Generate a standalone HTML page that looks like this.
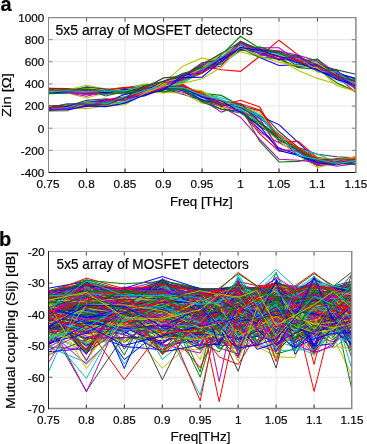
<!DOCTYPE html><html><head><meta charset="utf-8"><style>html,body{margin:0;padding:0;background:#fff;width:367px;height:444px;overflow:hidden}svg{display:block}</style></head><body><svg width="367" height="444" viewBox="0 0 367 444">
<rect width="367" height="444" fill="#fff"/>
<defs><clipPath id="ca"><rect x="48.1" y="17.5" width="307.9" height="155.0"/></clipPath><clipPath id="cb"><rect x="48.4" y="251.8" width="303.6" height="156.8"/></clipPath></defs>
<path d="M86.59 17.50V172.50M125.07 17.50V172.50M163.56 17.50V172.50M202.05 17.50V172.50M240.54 17.50V172.50M279.03 17.50V172.50M317.51 17.50V172.50" stroke="#e8e8e8" stroke-width="1.1" fill="none"/>
<path d="M48.10 39.64H356.00M48.10 61.79H356.00M48.10 83.93H356.00M48.10 106.07H356.00M48.10 128.21H356.00M48.10 150.36H356.00" stroke="#e8e8e8" stroke-width="1.1" fill="none"/>
<g clip-path="url(#ca)">
<polyline points="48.1,92.1 67.3,92.7 86.6,93.7 105.8,92.2 125.1,94.1 144.3,90.2 163.6,88.6 182.8,94.3 202.0,100.3 221.3,109.3 240.5,111.5 259.8,129.6 279.0,148.1 298.3,154.7 317.5,165.7 336.8,163.3 356.0,164.8" stroke="#0000ff" stroke-width="1.1" fill="none" stroke-linejoin="miter"/>
<polyline points="48.1,92.7 67.3,91.5 86.6,93.4 105.8,90.4 125.1,88.6 144.3,85.3 163.6,89.6 182.8,88.7 202.0,93.2 221.3,95.4 240.5,105.8 259.8,121.7 279.0,137.1 298.3,149.0 317.5,159.3 336.8,162.2 356.0,159.8" stroke="#008000" stroke-width="1.1" fill="none" stroke-linejoin="miter"/>
<polyline points="48.1,92.8 67.3,91.7 86.6,94.4 105.8,92.8 125.1,92.0 144.3,89.6 163.6,85.8 182.8,89.5 202.0,95.9 221.3,106.8 240.5,110.1 259.8,133.9 279.0,151.1 298.3,149.9 317.5,162.9 336.8,161.6 356.0,161.7" stroke="#ff0000" stroke-width="1.1" fill="none" stroke-linejoin="miter"/>
<polyline points="48.1,91.2 67.3,91.5 86.6,86.6 105.8,89.0 125.1,87.7 144.3,84.5 163.6,86.8 182.8,86.2 202.0,92.7 221.3,97.7 240.5,103.9 259.8,115.0 279.0,135.7 298.3,153.0 317.5,158.2 336.8,161.3 356.0,159.5" stroke="#00bfbf" stroke-width="1.1" fill="none" stroke-linejoin="miter"/>
<polyline points="48.1,93.0 67.3,92.4 86.6,94.4 105.8,94.3 125.1,92.9 144.3,88.4 163.6,88.6 182.8,92.2 202.0,99.6 221.3,112.1 240.5,105.7 259.8,132.2 279.0,142.8 298.3,151.8 317.5,165.7 336.8,162.8 356.0,161.3" stroke="#bf00bf" stroke-width="1.1" fill="none" stroke-linejoin="miter"/>
<polyline points="48.1,92.7 67.3,92.9 86.6,98.0 105.8,92.8 125.1,93.3 144.3,91.7 163.6,92.1 182.8,93.2 202.0,103.2 221.3,103.9 240.5,106.9 259.8,125.7 279.0,140.7 298.3,155.6 317.5,167.4 336.8,163.5 356.0,162.9" stroke="#bfbf00" stroke-width="1.1" fill="none" stroke-linejoin="miter"/>
<polyline points="48.1,89.4 67.3,90.8 86.6,93.2 105.8,90.8 125.1,89.6 144.3,88.7 163.6,88.3 182.8,85.9 202.0,101.3 221.3,101.7 240.5,109.7 259.8,127.0 279.0,135.5 298.3,149.9 317.5,163.2 336.8,160.6 356.0,162.8" stroke="#404040" stroke-width="1.1" fill="none" stroke-linejoin="miter"/>
<polyline points="48.1,90.7 67.3,91.9 86.6,90.8 105.8,92.0 125.1,90.2 144.3,90.9 163.6,83.5 182.8,88.9 202.0,100.9 221.3,102.7 240.5,106.7 259.8,116.0 279.0,124.6 298.3,142.6 317.5,160.3 336.8,163.6 356.0,160.3" stroke="#0000ff" stroke-width="1.1" fill="none" stroke-linejoin="miter"/>
<polyline points="48.1,91.4 67.3,88.7 86.6,89.9 105.8,96.0 125.1,91.3 144.3,90.7 163.6,86.0 182.8,89.2 202.0,91.5 221.3,100.4 240.5,106.6 259.8,141.5 279.0,162.0 298.3,161.4 317.5,157.3 336.8,160.9 356.0,162.8" stroke="#008000" stroke-width="1.1" fill="none" stroke-linejoin="miter"/>
<polyline points="48.1,88.3 67.3,88.6 86.6,92.1 105.8,93.2 125.1,89.0 144.3,87.5 163.6,82.7 182.8,86.9 202.0,93.0 221.3,104.8 240.5,103.7 259.8,117.4 279.0,134.1 298.3,149.0 317.5,164.8 336.8,158.8 356.0,159.5" stroke="#ff0000" stroke-width="1.1" fill="none" stroke-linejoin="miter"/>
<polyline points="48.1,93.4 67.3,90.4 86.6,91.8 105.8,90.0 125.1,90.8 144.3,87.7 163.6,82.5 182.8,86.8 202.0,93.8 221.3,99.6 240.5,109.9 259.8,114.9 279.0,139.2 298.3,151.6 317.5,158.7 336.8,160.9 356.0,158.9" stroke="#00bfbf" stroke-width="1.1" fill="none" stroke-linejoin="miter"/>
<polyline points="48.1,92.1 67.3,92.7 86.6,96.2 105.8,91.4 125.1,89.2 144.3,92.3 163.6,84.6 182.8,91.1 202.0,100.7 221.3,106.4 240.5,117.2 259.8,139.3 279.0,159.2 298.3,160.3 317.5,162.4 336.8,166.2 356.0,163.8" stroke="#bf00bf" stroke-width="1.1" fill="none" stroke-linejoin="miter"/>
<polyline points="48.1,92.0 67.3,93.6 86.6,88.3 105.8,91.1 125.1,91.3 144.3,90.0 163.6,93.1 182.8,88.1 202.0,93.3 221.3,107.6 240.5,108.4 259.8,119.1 279.0,151.0 298.3,149.0 317.5,157.8 336.8,162.1 356.0,162.7" stroke="#bfbf00" stroke-width="1.1" fill="none" stroke-linejoin="miter"/>
<polyline points="48.1,88.4 67.3,89.4 86.6,89.6 105.8,91.0 125.1,87.7 144.3,85.6 163.6,84.2 182.8,85.2 202.0,95.2 221.3,100.9 240.5,106.3 259.8,110.6 279.0,131.5 298.3,147.5 317.5,154.2 336.8,156.7 356.0,157.9" stroke="#404040" stroke-width="1.1" fill="none" stroke-linejoin="miter"/>
<polyline points="48.1,91.9 67.3,92.8 86.6,89.8 105.8,91.2 125.1,90.9 144.3,88.3 163.6,88.8 182.8,90.2 202.0,99.7 221.3,101.2 240.5,107.8 259.8,117.4 279.0,135.5 298.3,155.7 317.5,161.3 336.8,161.3 356.0,164.4" stroke="#0000ff" stroke-width="1.1" fill="none" stroke-linejoin="miter"/>
<polyline points="48.1,93.6 67.3,93.2 86.6,92.2 105.8,93.4 125.1,92.9 144.3,91.4 163.6,89.6 182.8,89.5 202.0,101.4 221.3,103.6 240.5,104.3 259.8,123.0 279.0,136.5 298.3,151.0 317.5,163.7 336.8,162.9 356.0,164.4" stroke="#008000" stroke-width="1.1" fill="none" stroke-linejoin="miter"/>
<polyline points="48.1,91.3 67.3,89.7 86.6,90.3 105.8,90.8 125.1,89.3 144.3,85.5 163.6,87.9 182.8,86.1 202.0,93.5 221.3,105.6 240.5,100.3 259.8,106.9 279.0,141.9 298.3,141.4 317.5,158.0 336.8,160.4 356.0,156.9" stroke="#ff0000" stroke-width="1.1" fill="none" stroke-linejoin="miter"/>
<polyline points="48.1,90.0 67.3,93.3 86.6,91.7 105.8,91.7 125.1,90.2 144.3,88.2 163.6,87.7 182.8,87.9 202.0,97.8 221.3,101.0 240.5,109.2 259.8,123.2 279.0,140.6 298.3,149.0 317.5,154.1 336.8,162.4 356.0,160.8" stroke="#00bfbf" stroke-width="1.1" fill="none" stroke-linejoin="miter"/>
<polyline points="48.1,89.7 67.3,92.4 86.6,93.6 105.8,90.0 125.1,92.0 144.3,87.5 163.6,89.0 182.8,86.7 202.0,96.1 221.3,104.1 240.5,111.9 259.8,118.4 279.0,149.6 298.3,151.1 317.5,160.6 336.8,159.9 356.0,163.9" stroke="#bf00bf" stroke-width="1.1" fill="none" stroke-linejoin="miter"/>
<polyline points="48.1,90.5 67.3,90.0 86.6,85.2 105.8,89.0 125.1,89.7 144.3,84.1 163.6,84.3 182.8,88.3 202.0,90.9 221.3,101.9 240.5,106.4 259.8,112.6 279.0,135.5 298.3,148.9 317.5,158.3 336.8,160.3 356.0,156.6" stroke="#bfbf00" stroke-width="1.1" fill="none" stroke-linejoin="miter"/>
<polyline points="48.1,91.3 67.3,91.3 86.6,87.2 105.8,89.0 125.1,92.2 144.3,87.9 163.6,85.8 182.8,87.6 202.0,96.5 221.3,106.1 240.5,103.5 259.8,121.8 279.0,139.5 298.3,150.5 317.5,160.2 336.8,158.7 356.0,159.5" stroke="#404040" stroke-width="1.1" fill="none" stroke-linejoin="miter"/>
<polyline points="48.1,93.2 67.3,91.5 86.6,89.8 105.8,92.9 125.1,89.4 144.3,90.8 163.6,88.5 182.8,87.7 202.0,97.1 221.3,100.7 240.5,112.2 259.8,125.8 279.0,150.5 298.3,155.4 317.5,162.8 336.8,164.7 356.0,161.1" stroke="#0000ff" stroke-width="1.1" fill="none" stroke-linejoin="miter"/>
<polyline points="48.1,93.3 67.3,89.3 86.6,89.1 105.8,90.5 125.1,91.4 144.3,88.5 163.6,91.9 182.8,88.6 202.0,102.1 221.3,109.1 240.5,112.9 259.8,123.6 279.0,139.6 298.3,149.2 317.5,160.1 336.8,164.2 356.0,160.8" stroke="#008000" stroke-width="1.1" fill="none" stroke-linejoin="miter"/>
<polyline points="48.1,90.0 67.3,90.4 86.6,90.2 105.8,90.1 125.1,87.4 144.3,88.1 163.6,83.9 182.8,84.2 202.0,95.5 221.3,100.6 240.5,103.8 259.8,110.0 279.0,137.4 298.3,147.9 317.5,158.8 336.8,163.3 356.0,158.5" stroke="#ff0000" stroke-width="1.1" fill="none" stroke-linejoin="miter"/>
<polyline points="48.1,91.9 67.3,90.7 86.6,91.6 105.8,90.8 125.1,90.9 144.3,85.5 163.6,87.7 182.8,87.6 202.0,95.3 221.3,99.9 240.5,106.6 259.8,117.0 279.0,134.8 298.3,155.4 317.5,159.3 336.8,163.7 356.0,160.6" stroke="#00bfbf" stroke-width="1.1" fill="none" stroke-linejoin="miter"/>
<polyline points="48.1,107.6 67.3,106.7 86.6,103.3 105.8,100.1 125.1,99.2 144.3,94.3 163.6,83.7 182.8,76.9 202.0,66.2 221.3,62.5 240.5,47.6 259.8,53.4 279.0,60.3 298.3,59.6 317.5,64.0 336.8,77.9 356.0,80.8" stroke="#bf00bf" stroke-width="1.1" fill="none" stroke-linejoin="miter"/>
<polyline points="48.1,108.4 67.3,107.6 86.6,103.2 105.8,101.6 125.1,100.0 144.3,92.1 163.6,82.6 182.8,66.2 202.0,57.9 221.3,62.9 240.5,45.6 259.8,52.6 279.0,59.5 298.3,57.4 317.5,72.3 336.8,75.0 356.0,82.4" stroke="#bfbf00" stroke-width="1.1" fill="none" stroke-linejoin="miter"/>
<polyline points="48.1,109.2 67.3,107.6 86.6,105.7 105.8,105.4 125.1,101.5 144.3,91.9 163.6,87.0 182.8,82.2 202.0,68.2 221.3,59.5 240.5,42.1 259.8,53.3 279.0,59.3 298.3,67.4 317.5,64.3 336.8,69.9 356.0,90.0" stroke="#404040" stroke-width="1.1" fill="none" stroke-linejoin="miter"/>
<polyline points="48.1,106.6 67.3,105.1 86.6,102.4 105.8,101.7 125.1,99.8 144.3,93.8 163.6,85.3 182.8,79.4 202.0,70.6 221.3,58.0 240.5,44.4 259.8,57.4 279.0,65.5 298.3,64.6 317.5,64.5 336.8,71.3 356.0,82.7" stroke="#0000ff" stroke-width="1.1" fill="none" stroke-linejoin="miter"/>
<polyline points="48.1,109.2 67.3,105.8 86.6,103.2 105.8,101.6 125.1,98.4 144.3,92.6 163.6,85.9 182.8,78.0 202.0,71.3 221.3,55.1 240.5,36.3 259.8,48.5 279.0,59.6 298.3,57.6 317.5,69.3 336.8,78.4 356.0,86.0" stroke="#008000" stroke-width="1.1" fill="none" stroke-linejoin="miter"/>
<polyline points="48.1,108.2 67.3,106.4 86.6,103.2 105.8,102.1 125.1,98.7 144.3,93.4 163.6,83.7 182.8,79.9 202.0,66.2 221.3,69.8 240.5,71.4 259.8,56.2 279.0,40.2 298.3,55.1 317.5,69.0 336.8,74.1 356.0,87.2" stroke="#ff0000" stroke-width="1.1" fill="none" stroke-linejoin="miter"/>
<polyline points="48.1,109.1 67.3,106.1 86.6,103.4 105.8,103.4 125.1,101.9 144.3,93.2 163.6,85.2 182.8,78.3 202.0,66.8 221.3,52.8 240.5,47.1 259.8,49.7 279.0,53.4 298.3,58.0 317.5,62.3 336.8,77.0 356.0,82.9" stroke="#00bfbf" stroke-width="1.1" fill="none" stroke-linejoin="miter"/>
<polyline points="48.1,110.5 67.3,106.9 86.6,103.4 105.8,100.4 125.1,97.9 144.3,91.9 163.6,82.8 182.8,77.3 202.0,65.3 221.3,57.0 240.5,50.7 259.8,47.7 279.0,47.7 298.3,61.4 317.5,59.3 336.8,73.5 356.0,85.0" stroke="#bf00bf" stroke-width="1.1" fill="none" stroke-linejoin="miter"/>
<polyline points="48.1,110.5 67.3,107.8 86.6,108.6 105.8,106.0 125.1,100.6 144.3,95.6 163.6,83.9 182.8,81.7 202.0,72.9 221.3,53.1 240.5,51.8 259.8,56.9 279.0,59.4 298.3,70.6 317.5,78.4 336.8,83.9 356.0,91.3" stroke="#bfbf00" stroke-width="1.1" fill="none" stroke-linejoin="miter"/>
<polyline points="48.1,106.4 67.3,105.7 86.6,103.7 105.8,102.6 125.1,99.2 144.3,93.2 163.6,90.2 182.8,74.6 202.0,66.8 221.3,57.8 240.5,41.6 259.8,49.3 279.0,53.8 298.3,66.7 317.5,65.5 336.8,72.5 356.0,79.1" stroke="#404040" stroke-width="1.1" fill="none" stroke-linejoin="miter"/>
<polyline points="48.1,106.8 67.3,105.0 86.6,104.1 105.8,101.9 125.1,94.2 144.3,91.5 163.6,80.9 182.8,75.4 202.0,69.4 221.3,58.9 240.5,43.6 259.8,49.2 279.0,52.5 298.3,62.2 317.5,66.0 336.8,73.9 356.0,78.4" stroke="#0000ff" stroke-width="1.1" fill="none" stroke-linejoin="miter"/>
<polyline points="48.1,109.8 67.3,108.3 86.6,103.5 105.8,101.9 125.1,98.3 144.3,93.4 163.6,87.1 182.8,80.4 202.0,73.2 221.3,58.5 240.5,48.3 259.8,57.5 279.0,58.5 298.3,67.6 317.5,69.1 336.8,82.8 356.0,91.7" stroke="#008000" stroke-width="1.1" fill="none" stroke-linejoin="miter"/>
<polyline points="48.1,108.3 67.3,109.5 86.6,105.8 105.8,102.9 125.1,98.2 144.3,91.3 163.6,87.4 182.8,80.6 202.0,70.4 221.3,62.1 240.5,48.8 259.8,50.5 279.0,53.3 298.3,61.6 317.5,69.6 336.8,76.2 356.0,92.9" stroke="#ff0000" stroke-width="1.1" fill="none" stroke-linejoin="miter"/>
<polyline points="48.1,108.3 67.3,109.1 86.6,104.9 105.8,101.2 125.1,102.6 144.3,91.9 163.6,87.1 182.8,83.1 202.0,71.8 221.3,63.8 240.5,46.7 259.8,55.9 279.0,54.7 298.3,64.5 317.5,67.2 336.8,79.7 356.0,88.0" stroke="#00bfbf" stroke-width="1.1" fill="none" stroke-linejoin="miter"/>
<polyline points="48.1,106.6 67.3,106.1 86.6,103.6 105.8,100.3 125.1,97.9 144.3,89.8 163.6,86.4 182.8,73.5 202.0,70.4 221.3,57.3 240.5,48.3 259.8,48.7 279.0,51.1 298.3,55.2 317.5,61.1 336.8,79.1 356.0,85.9" stroke="#bf00bf" stroke-width="1.1" fill="none" stroke-linejoin="miter"/>
<polyline points="48.1,109.0 67.3,105.0 86.6,102.4 105.8,99.9 125.1,98.5 144.3,92.8 163.6,81.8 182.8,78.0 202.0,68.2 221.3,53.6 240.5,46.5 259.8,52.6 279.0,55.5 298.3,57.8 317.5,63.8 336.8,74.7 356.0,83.0" stroke="#bfbf00" stroke-width="1.1" fill="none" stroke-linejoin="miter"/>
<polyline points="48.1,105.9 67.3,106.2 86.6,100.4 105.8,98.7 125.1,100.2 144.3,88.1 163.6,77.9 182.8,76.4 202.0,62.8 221.3,60.0 240.5,41.2 259.8,52.2 279.0,51.0 298.3,61.6 317.5,71.0 336.8,69.9 356.0,74.2" stroke="#404040" stroke-width="1.1" fill="none" stroke-linejoin="miter"/>
<polyline points="48.1,108.4 67.3,106.2 86.6,102.3 105.8,100.1 125.1,97.4 144.3,96.0 163.6,88.7 182.8,75.5 202.0,72.8 221.3,58.5 240.5,49.4 259.8,52.3 279.0,59.6 298.3,55.5 317.5,70.6 336.8,76.6 356.0,86.2" stroke="#0000ff" stroke-width="1.1" fill="none" stroke-linejoin="miter"/>
<polyline points="48.1,105.7 67.3,108.0 86.6,105.5 105.8,102.6 125.1,97.6 144.3,85.7 163.6,81.9 182.8,73.4 202.0,68.0 221.3,64.1 240.5,50.3 259.8,46.9 279.0,53.3 298.3,61.8 317.5,59.1 336.8,78.2 356.0,79.4" stroke="#008000" stroke-width="1.1" fill="none" stroke-linejoin="miter"/>
<polyline points="48.1,107.1 67.3,107.5 86.6,106.6 105.8,100.5 125.1,96.7 144.3,94.2 163.6,88.0 182.8,78.6 202.0,73.2 221.3,61.3 240.5,42.9 259.8,51.8 279.0,56.9 298.3,60.8 317.5,68.4 336.8,74.7 356.0,84.1" stroke="#ff0000" stroke-width="1.1" fill="none" stroke-linejoin="miter"/>
<polyline points="48.1,109.8 67.3,107.5 86.6,101.7 105.8,103.4 125.1,96.5 144.3,90.5 163.6,85.7 182.8,81.1 202.0,69.2 221.3,57.3 240.5,43.9 259.8,52.0 279.0,53.4 298.3,56.8 317.5,71.3 336.8,71.9 356.0,85.5" stroke="#00bfbf" stroke-width="1.1" fill="none" stroke-linejoin="miter"/>
<polyline points="48.1,109.9 67.3,108.2 86.6,105.5 105.8,101.1 125.1,99.6 144.3,93.2 163.6,86.5 182.8,79.0 202.0,70.3 221.3,66.1 240.5,42.5 259.8,54.5 279.0,58.6 298.3,57.4 317.5,67.1 336.8,77.0 356.0,88.2" stroke="#bf00bf" stroke-width="1.1" fill="none" stroke-linejoin="miter"/>
<polyline points="48.1,111.4 67.3,111.0 86.6,103.0 105.8,106.1 125.1,104.7 144.3,93.6 163.6,85.8 182.8,83.4 202.0,78.8 221.3,67.3 240.5,47.4 259.8,56.3 279.0,62.4 298.3,65.5 317.5,67.9 336.8,85.8 356.0,91.2" stroke="#bfbf00" stroke-width="1.1" fill="none" stroke-linejoin="miter"/>
<polyline points="48.1,107.5 67.3,103.7 86.6,104.1 105.8,104.9 125.1,97.9 144.3,85.9 163.6,81.3 182.8,75.9 202.0,64.2 221.3,53.6 240.5,41.6 259.8,50.3 279.0,53.0 298.3,56.4 317.5,64.9 336.8,76.1 356.0,81.8" stroke="#404040" stroke-width="1.1" fill="none" stroke-linejoin="miter"/>
<polyline points="48.1,110.2 67.3,109.9 86.6,105.9 105.8,106.6 125.1,103.1 144.3,95.0 163.6,89.4 182.8,77.6 202.0,77.1 221.3,61.2 240.5,47.4 259.8,50.5 279.0,56.3 298.3,62.9 317.5,69.9 336.8,79.5 356.0,85.0" stroke="#0000ff" stroke-width="1.1" fill="none" stroke-linejoin="miter"/>
</g>
<path d="M86.59 172.50v-4.0" stroke="#111" stroke-width="1"/>
<path d="M86.59 17.60v4.0" stroke="#555" stroke-width="1"/>
<path d="M125.07 172.50v-4.0" stroke="#111" stroke-width="1"/>
<path d="M125.07 17.60v4.0" stroke="#555" stroke-width="1"/>
<path d="M163.56 172.50v-4.0" stroke="#111" stroke-width="1"/>
<path d="M163.56 17.60v4.0" stroke="#555" stroke-width="1"/>
<path d="M202.05 172.50v-4.0" stroke="#111" stroke-width="1"/>
<path d="M202.05 17.60v4.0" stroke="#555" stroke-width="1"/>
<path d="M240.54 172.50v-4.0" stroke="#111" stroke-width="1"/>
<path d="M240.54 17.60v4.0" stroke="#555" stroke-width="1"/>
<path d="M279.03 172.50v-4.0" stroke="#111" stroke-width="1"/>
<path d="M279.03 17.60v4.0" stroke="#555" stroke-width="1"/>
<path d="M317.51 172.50v-4.0" stroke="#111" stroke-width="1"/>
<path d="M317.51 17.60v4.0" stroke="#555" stroke-width="1"/>
<path d="M48.50 39.64h4.0" stroke="#8a8a8a" stroke-width="1"/>
<path d="M355.90 39.64h-4.0" stroke="#808080" stroke-width="1"/>
<path d="M48.50 61.79h4.0" stroke="#8a8a8a" stroke-width="1"/>
<path d="M355.90 61.79h-4.0" stroke="#808080" stroke-width="1"/>
<path d="M48.50 83.93h4.0" stroke="#8a8a8a" stroke-width="1"/>
<path d="M355.90 83.93h-4.0" stroke="#808080" stroke-width="1"/>
<path d="M48.50 106.07h4.0" stroke="#8a8a8a" stroke-width="1"/>
<path d="M355.90 106.07h-4.0" stroke="#808080" stroke-width="1"/>
<path d="M48.50 128.21h4.0" stroke="#8a8a8a" stroke-width="1"/>
<path d="M355.90 128.21h-4.0" stroke="#808080" stroke-width="1"/>
<path d="M48.50 150.36h4.0" stroke="#8a8a8a" stroke-width="1"/>
<path d="M355.90 150.36h-4.0" stroke="#808080" stroke-width="1"/>
<path d="M48.00 17.60H356.40" stroke="#8c8c8c" stroke-width="1.1"/>
<path d="M48.00 172.50H356.40" stroke="#111" stroke-width="1"/>
<path d="M48.50 17.10V173.00" stroke="#8a8a8a" stroke-width="1"/>
<path d="M355.90 17.10V173.00" stroke="#8a8a8a" stroke-width="1.5"/>
<path d="M86.35 251.80V408.60M124.30 251.80V408.60M162.25 251.80V408.60M200.20 251.80V408.60M238.15 251.80V408.60M276.10 251.80V408.60M314.05 251.80V408.60" stroke="#e8e8e8" stroke-width="1" fill="none"/>
<path d="M48.40 283.16H352.00M48.40 314.52H352.00M48.40 345.88H352.00M48.40 377.24H352.00" stroke="#dcdcdc" stroke-width="1" fill="none" stroke-dasharray="2 1"/>
<g clip-path="url(#cb)">
<polyline points="48.4,299.0 86.4,300.9 124.3,317.0 162.3,281.9 200.2,294.0 219.2,334.5 238.2,348.1 257.1,307.1 276.1,346.5 295.1,289.7 314.1,287.1 333.0,293.6 352.0,298.2" stroke="#0000ff" stroke-width="1.0" fill="none" stroke-linejoin="miter"/>
<polyline points="48.4,326.0 86.4,321.6 124.3,303.9 162.3,320.9 200.2,307.8 219.2,311.7 238.2,313.7 257.1,331.7 276.1,332.9 295.1,320.3 314.1,306.8 333.0,320.4 352.0,345.5" stroke="#008000" stroke-width="1.0" fill="none" stroke-linejoin="miter"/>
<polyline points="48.4,330.2 86.4,314.9 124.3,311.0 162.3,325.5 200.2,339.3 219.2,317.5 238.2,328.8 257.1,340.4 276.1,310.9 295.1,315.8 314.1,305.5 333.0,309.2 352.0,302.1" stroke="#ff0000" stroke-width="1.0" fill="none" stroke-linejoin="miter"/>
<polyline points="48.4,322.7 86.4,310.4 124.3,307.1 162.3,309.3 200.2,293.4 219.2,295.6 238.2,310.1 257.1,297.0 276.1,295.2 295.1,301.7 314.1,293.7 333.0,304.6 352.0,348.3" stroke="#00bfbf" stroke-width="1.0" fill="none" stroke-linejoin="miter"/>
<polyline points="48.4,306.7 86.4,315.2 124.3,312.2 162.3,286.8 200.2,346.0 219.2,307.5 238.2,294.0 257.1,319.4 276.1,318.6 295.1,347.0 314.1,293.3 333.0,329.8 352.0,323.6" stroke="#bf00bf" stroke-width="1.0" fill="none" stroke-linejoin="miter"/>
<polyline points="48.4,322.7 86.4,285.1 124.3,291.3 162.3,300.0 200.2,288.2 219.2,296.7 238.2,293.3 257.1,302.8 276.1,295.6 295.1,299.9 314.1,285.3 333.0,291.7 352.0,290.5" stroke="#bfbf00" stroke-width="1.0" fill="none" stroke-linejoin="miter"/>
<polyline points="48.4,297.1 86.4,298.5 124.3,301.2 162.3,310.6 200.2,296.9 219.2,288.1 238.2,316.9 257.1,289.8 276.1,297.5 295.1,307.2 314.1,286.2 333.0,289.8 352.0,289.5" stroke="#404040" stroke-width="1.0" fill="none" stroke-linejoin="miter"/>
<polyline points="48.4,342.3 86.4,320.2 124.3,329.8 162.3,328.4 200.2,333.0 219.2,324.7 238.2,334.5 257.1,326.7 276.1,332.0 295.1,322.1 314.1,339.2 333.0,327.0 352.0,350.5" stroke="#0000ff" stroke-width="1.0" fill="none" stroke-linejoin="miter"/>
<polyline points="48.4,304.8 86.4,314.6 124.3,311.8 162.3,306.4 200.2,331.5 219.2,349.0 238.2,335.7 257.1,298.3 276.1,320.4 295.1,318.8 314.1,306.0 333.0,307.8 352.0,305.2" stroke="#008000" stroke-width="1.0" fill="none" stroke-linejoin="miter"/>
<polyline points="48.4,303.5 86.4,286.4 124.3,317.6 162.3,302.9 200.2,289.5 219.2,291.3 238.2,302.4 257.1,291.3 276.1,283.9 295.1,286.1 314.1,287.3 333.0,286.4 352.0,298.0" stroke="#ff0000" stroke-width="1.0" fill="none" stroke-linejoin="miter"/>
<polyline points="48.4,293.9 86.4,312.2 124.3,304.0 162.3,290.3 200.2,308.1 219.2,312.8 238.2,299.0 257.1,297.2 276.1,287.3 295.1,290.9 314.1,295.9 333.0,295.4 352.0,286.9" stroke="#00bfbf" stroke-width="1.0" fill="none" stroke-linejoin="miter"/>
<polyline points="48.4,308.4 86.4,311.6 124.3,299.6 162.3,297.0 200.2,316.2 219.2,294.2 238.2,314.8 257.1,296.2 276.1,318.3 295.1,288.5 314.1,347.3 333.0,299.0 352.0,311.8" stroke="#bf00bf" stroke-width="1.0" fill="none" stroke-linejoin="miter"/>
<polyline points="48.4,318.7 86.4,289.3 124.3,309.4 162.3,311.7 200.2,314.1 219.2,295.1 238.2,330.8 257.1,305.0 276.1,331.5 295.1,309.9 314.1,296.9 333.0,297.0 352.0,302.9" stroke="#bfbf00" stroke-width="1.0" fill="none" stroke-linejoin="miter"/>
<polyline points="48.4,299.7 86.4,280.8 124.3,301.7 162.3,281.1 200.2,289.3 219.2,289.1 238.2,289.2 257.1,289.5 276.1,282.5 295.1,288.2 314.1,284.2 333.0,290.2 352.0,286.5" stroke="#404040" stroke-width="1.0" fill="none" stroke-linejoin="miter"/>
<polyline points="48.4,326.6 86.4,342.6 124.3,327.5 162.3,345.4 200.2,340.3 219.2,321.5 238.2,316.7 257.1,322.5 276.1,314.1 295.1,325.2 314.1,317.7 333.0,335.0 352.0,323.8" stroke="#0000ff" stroke-width="1.0" fill="none" stroke-linejoin="miter"/>
<polyline points="48.4,300.8 86.4,313.0 124.3,299.7 162.3,302.8 200.2,321.2 219.2,313.7 238.2,292.4 257.1,306.1 276.1,320.9 295.1,300.7 314.1,285.0 333.0,295.1 352.0,292.9" stroke="#008000" stroke-width="1.0" fill="none" stroke-linejoin="miter"/>
<polyline points="48.4,344.5 86.4,314.3 124.3,301.1 162.3,321.8 200.2,296.0 219.2,302.6 238.2,314.1 257.1,302.1 276.1,336.5 295.1,328.5 314.1,290.1 333.0,309.7 352.0,292.8" stroke="#ff0000" stroke-width="1.0" fill="none" stroke-linejoin="miter"/>
<polyline points="48.4,292.4 86.4,283.5 124.3,294.2 162.3,316.0 200.2,305.1 219.2,301.1 238.2,296.6 257.1,291.0 276.1,286.9 295.1,308.4 314.1,303.9 333.0,301.3 352.0,285.4" stroke="#00bfbf" stroke-width="1.0" fill="none" stroke-linejoin="miter"/>
<polyline points="48.4,300.1 86.4,325.8 124.3,320.6 162.3,290.5 200.2,313.2 219.2,344.0 238.2,311.7 257.1,289.4 276.1,294.3 295.1,307.3 314.1,323.7 333.0,310.7 352.0,301.6" stroke="#bf00bf" stroke-width="1.0" fill="none" stroke-linejoin="miter"/>
<polyline points="48.4,331.6 86.4,307.0 124.3,303.5 162.3,309.9 200.2,314.0 219.2,298.7 238.2,314.0 257.1,314.2 276.1,316.1 295.1,323.2 314.1,295.8 333.0,300.5 352.0,292.2" stroke="#bfbf00" stroke-width="1.0" fill="none" stroke-linejoin="miter"/>
<polyline points="48.4,329.5 86.4,281.2 124.3,291.7 162.3,299.6 200.2,303.6 219.2,308.2 238.2,296.3 257.1,290.1 276.1,287.4 295.1,300.6 314.1,291.6 333.0,292.1 352.0,289.3" stroke="#404040" stroke-width="1.0" fill="none" stroke-linejoin="miter"/>
<polyline points="48.4,313.6 86.4,346.1 124.3,320.5 162.3,302.7 200.2,303.4 219.2,305.0 238.2,332.0 257.1,327.3 276.1,324.3 295.1,311.8 314.1,324.1 333.0,312.9 352.0,297.3" stroke="#0000ff" stroke-width="1.0" fill="none" stroke-linejoin="miter"/>
<polyline points="48.4,310.0 86.4,305.8 124.3,301.3 162.3,308.7 200.2,303.1 219.2,302.3 238.2,306.3 257.1,301.0 276.1,318.8 295.1,305.7 314.1,314.4 333.0,337.0 352.0,316.6" stroke="#008000" stroke-width="1.0" fill="none" stroke-linejoin="miter"/>
<polyline points="48.4,314.5 86.4,300.4 124.3,303.4 162.3,303.4 200.2,303.3 219.2,299.6 238.2,298.2 257.1,308.5 276.1,295.2 295.1,325.9 314.1,308.5 333.0,310.0 352.0,307.3" stroke="#ff0000" stroke-width="1.0" fill="none" stroke-linejoin="miter"/>
<polyline points="48.4,344.6 86.4,314.1 124.3,342.7 162.3,313.8 200.2,318.3 219.2,322.1 238.2,332.9 257.1,324.3 276.1,341.5 295.1,346.6 314.1,327.6 333.0,348.3 352.0,333.6" stroke="#00bfbf" stroke-width="1.0" fill="none" stroke-linejoin="miter"/>
<polyline points="48.4,328.9 86.4,322.8 124.3,312.2 162.3,293.5 200.2,335.4 219.2,307.1 238.2,331.5 257.1,323.0 276.1,311.2 295.1,328.9 314.1,309.0 333.0,301.3 352.0,320.7" stroke="#bf00bf" stroke-width="1.0" fill="none" stroke-linejoin="miter"/>
<polyline points="48.4,297.6 86.4,288.4 124.3,292.4 162.3,328.4 200.2,311.4 219.2,333.0 238.2,289.2 257.1,298.0 276.1,302.8 295.1,303.7 314.1,287.4 333.0,300.5 352.0,295.2" stroke="#bfbf00" stroke-width="1.0" fill="none" stroke-linejoin="miter"/>
<polyline points="48.4,296.8 86.4,282.7 124.3,291.7 162.3,287.5 200.2,289.5 219.2,298.9 238.2,324.3 257.1,295.0 276.1,307.6 295.1,286.9 314.1,301.1 333.0,312.8 352.0,283.8" stroke="#404040" stroke-width="1.0" fill="none" stroke-linejoin="miter"/>
<polyline points="48.4,323.4 86.4,332.7 124.3,346.6 162.3,349.7 200.2,333.2 219.2,318.2 238.2,317.8 257.1,319.2 276.1,326.1 295.1,326.6 314.1,331.9 333.0,316.1 352.0,316.7" stroke="#0000ff" stroke-width="1.0" fill="none" stroke-linejoin="miter"/>
<polyline points="48.4,328.1 86.4,314.8 124.3,326.4 162.3,346.6 200.2,332.6 219.2,314.7 238.2,321.8 257.1,310.8 276.1,319.9 295.1,313.2 314.1,310.2 333.0,322.0 352.0,316.7" stroke="#008000" stroke-width="1.0" fill="none" stroke-linejoin="miter"/>
<polyline points="48.4,299.0 86.4,302.6 124.3,290.9 162.3,307.6 200.2,292.0 219.2,306.9 238.2,286.3 257.1,300.1 276.1,294.5 295.1,301.2 314.1,295.9 333.0,299.4 352.0,284.9" stroke="#ff0000" stroke-width="1.0" fill="none" stroke-linejoin="miter"/>
<polyline points="48.4,315.0 86.4,329.0 124.3,316.1 162.3,313.1 200.2,335.1 219.2,314.8 238.2,310.7 257.1,328.1 276.1,335.6 295.1,308.5 314.1,305.5 333.0,314.3 352.0,340.3" stroke="#00bfbf" stroke-width="1.0" fill="none" stroke-linejoin="miter"/>
<polyline points="48.4,343.0 86.4,293.5 124.3,290.7 162.3,302.2 200.2,317.1 219.2,319.8 238.2,284.2 257.1,299.2 276.1,296.3 295.1,308.9 314.1,287.7 333.0,322.1 352.0,289.9" stroke="#bf00bf" stroke-width="1.0" fill="none" stroke-linejoin="miter"/>
<polyline points="48.4,311.7 86.4,289.1 124.3,319.8 162.3,309.2 200.2,303.8 219.2,311.0 238.2,312.8 257.1,316.1 276.1,311.0 295.1,307.8 314.1,327.7 333.0,314.0 352.0,321.6" stroke="#bfbf00" stroke-width="1.0" fill="none" stroke-linejoin="miter"/>
<polyline points="48.4,302.4 86.4,303.5 124.3,294.4 162.3,303.1 200.2,346.2 219.2,299.8 238.2,322.1 257.1,290.7 276.1,298.1 295.1,288.1 314.1,296.5 333.0,295.8 352.0,316.7" stroke="#404040" stroke-width="1.0" fill="none" stroke-linejoin="miter"/>
<polyline points="48.4,300.0 86.4,324.9 124.3,289.7 162.3,331.9 200.2,322.8 219.2,295.2 238.2,288.2 257.1,309.4 276.1,285.3 295.1,303.9 314.1,352.5 333.0,287.6 352.0,301.9" stroke="#0000ff" stroke-width="1.0" fill="none" stroke-linejoin="miter"/>
<polyline points="48.4,303.4 86.4,318.7 124.3,312.4 162.3,286.3 200.2,310.0 219.2,305.2 238.2,297.3 257.1,294.7 276.1,306.5 295.1,324.2 314.1,294.1 333.0,286.9 352.0,353.5" stroke="#008000" stroke-width="1.0" fill="none" stroke-linejoin="miter"/>
<polyline points="48.4,329.0 86.4,327.8 124.3,310.7 162.3,314.2 200.2,347.4 219.2,301.9 238.2,316.6 257.1,325.9 276.1,293.3 295.1,318.8 314.1,307.7 333.0,321.0 352.0,312.4" stroke="#ff0000" stroke-width="1.0" fill="none" stroke-linejoin="miter"/>
<polyline points="48.4,293.9 86.4,290.6 124.3,306.8 162.3,324.1 200.2,295.3 219.2,291.4 238.2,306.0 257.1,286.7 276.1,329.8 295.1,287.6 314.1,297.7 333.0,298.1 352.0,299.7" stroke="#00bfbf" stroke-width="1.0" fill="none" stroke-linejoin="miter"/>
<polyline points="48.4,308.4 86.4,301.0 124.3,304.3 162.3,303.5 200.2,313.9 219.2,339.9 238.2,300.0 257.1,311.3 276.1,321.9 295.1,302.2 314.1,316.7 333.0,300.2 352.0,304.7" stroke="#bf00bf" stroke-width="1.0" fill="none" stroke-linejoin="miter"/>
<polyline points="48.4,304.5 86.4,296.0 124.3,312.9 162.3,308.3 200.2,310.8 219.2,296.4 238.2,298.1 257.1,319.1 276.1,357.5 295.1,300.9 314.1,333.7 333.0,295.7 352.0,297.8" stroke="#bfbf00" stroke-width="1.0" fill="none" stroke-linejoin="miter"/>
<polyline points="48.4,316.9 86.4,317.8 124.3,310.1 162.3,307.0 200.2,345.6 219.2,332.9 238.2,320.7 257.1,306.3 276.1,311.7 295.1,305.7 314.1,333.2 333.0,309.9 352.0,340.8" stroke="#404040" stroke-width="1.0" fill="none" stroke-linejoin="miter"/>
<polyline points="48.4,302.5 86.4,289.1 124.3,308.5 162.3,312.6 200.2,311.0 219.2,315.9 238.2,312.8 257.1,321.3 276.1,334.3 295.1,303.2 314.1,317.5 333.0,326.4 352.0,311.5" stroke="#0000ff" stroke-width="1.0" fill="none" stroke-linejoin="miter"/>
<polyline points="48.4,317.3 86.4,294.3 124.3,297.8 162.3,282.7 200.2,300.0 219.2,307.9 238.2,350.8 257.1,304.2 276.1,311.1 295.1,298.2 314.1,325.9 333.0,293.2 352.0,305.8" stroke="#008000" stroke-width="1.0" fill="none" stroke-linejoin="miter"/>
<polyline points="48.4,317.5 86.4,314.5 124.3,304.8 162.3,315.1 200.2,320.4 219.2,315.4 238.2,306.8 257.1,327.2 276.1,316.8 295.1,294.8 314.1,294.2 333.0,338.5 352.0,299.5" stroke="#ff0000" stroke-width="1.0" fill="none" stroke-linejoin="miter"/>
<polyline points="48.4,295.2 86.4,294.9 124.3,303.1 162.3,284.1 200.2,290.5 219.2,289.8 238.2,286.6 257.1,294.0 276.1,287.0 295.1,287.8 314.1,291.0 333.0,300.1 352.0,285.8" stroke="#00bfbf" stroke-width="1.0" fill="none" stroke-linejoin="miter"/>
<polyline points="48.4,306.1 86.4,295.2 124.3,303.7 162.3,280.0 200.2,291.1 219.2,299.6 238.2,318.7 257.1,291.7 276.1,297.5 295.1,293.2 314.1,295.8 333.0,289.6 352.0,282.9" stroke="#bf00bf" stroke-width="1.0" fill="none" stroke-linejoin="miter"/>
<polyline points="48.4,316.4 86.4,316.1 124.3,302.4 162.3,306.5 200.2,293.3 219.2,296.6 238.2,320.7 257.1,309.7 276.1,298.1 295.1,338.8 314.1,303.0 333.0,305.9 352.0,305.1" stroke="#bfbf00" stroke-width="1.0" fill="none" stroke-linejoin="miter"/>
<polyline points="48.4,299.5 86.4,330.5 124.3,320.5 162.3,305.1 200.2,294.5 219.2,324.2 238.2,293.1 257.1,303.5 276.1,350.7 295.1,300.9 314.1,351.3 333.0,299.5 352.0,326.2" stroke="#404040" stroke-width="1.0" fill="none" stroke-linejoin="miter"/>
<polyline points="48.4,297.3 86.4,281.9 124.3,309.9 162.3,281.9 200.2,330.9 219.2,295.4 238.2,305.8 257.1,289.3 276.1,295.0 295.1,287.1 314.1,292.9 333.0,320.7 352.0,303.4" stroke="#0000ff" stroke-width="1.0" fill="none" stroke-linejoin="miter"/>
<polyline points="48.4,334.3 86.4,308.5 124.3,313.8 162.3,327.2 200.2,314.4 219.2,315.4 238.2,336.6 257.1,313.7 276.1,351.3 295.1,326.4 314.1,314.6 333.0,316.9 352.0,325.7" stroke="#008000" stroke-width="1.0" fill="none" stroke-linejoin="miter"/>
<polyline points="48.4,293.4 86.4,288.2 124.3,299.9 162.3,281.3 200.2,300.1 219.2,294.5 238.2,284.6 257.1,300.4 276.1,287.1 295.1,303.1 314.1,308.7 333.0,328.8 352.0,288.0" stroke="#ff0000" stroke-width="1.0" fill="none" stroke-linejoin="miter"/>
<polyline points="48.4,312.8 86.4,329.0 124.3,306.7 162.3,318.7 200.2,329.8 219.2,326.3 238.2,321.1 257.1,319.3 276.1,317.4 295.1,313.6 314.1,323.2 333.0,303.9 352.0,344.5" stroke="#00bfbf" stroke-width="1.0" fill="none" stroke-linejoin="miter"/>
<polyline points="48.4,301.5 86.4,283.0 124.3,296.4 162.3,310.3 200.2,315.9 219.2,295.5 238.2,309.5 257.1,286.1 276.1,305.1 295.1,327.7 314.1,299.3 333.0,288.3 352.0,287.5" stroke="#bf00bf" stroke-width="1.0" fill="none" stroke-linejoin="miter"/>
<polyline points="48.4,292.6 86.4,311.4 124.3,296.7 162.3,296.2 200.2,318.9 219.2,309.1 238.2,290.7 257.1,301.9 276.1,303.3 295.1,322.9 314.1,311.1 333.0,296.0 352.0,307.9" stroke="#bfbf00" stroke-width="1.0" fill="none" stroke-linejoin="miter"/>
<polyline points="48.4,352.7 86.4,320.2 124.3,306.6 162.3,299.7 200.2,304.5 219.2,322.9 238.2,342.5 257.1,318.3 276.1,315.9 295.1,339.0 314.1,315.9 333.0,325.8 352.0,323.5" stroke="#404040" stroke-width="1.0" fill="none" stroke-linejoin="miter"/>
<polyline points="48.4,318.4 86.4,344.5 124.3,337.3 162.3,340.8 200.2,333.0 219.2,316.6 238.2,320.5 257.1,332.6 276.1,334.0 295.1,320.9 314.1,327.1 333.0,331.2 352.0,327.6" stroke="#0000ff" stroke-width="1.0" fill="none" stroke-linejoin="miter"/>
<polyline points="48.4,345.8 86.4,308.5 124.3,298.6 162.3,297.7 200.2,316.1 219.2,306.2 238.2,309.8 257.1,308.2 276.1,298.6 295.1,302.3 314.1,295.9 333.0,312.0 352.0,312.0" stroke="#008000" stroke-width="1.0" fill="none" stroke-linejoin="miter"/>
<polyline points="48.4,325.6 86.4,313.7 124.3,306.1 162.3,302.7 200.2,306.9 219.2,333.9 238.2,316.9 257.1,303.3 276.1,314.4 295.1,303.6 314.1,302.9 333.0,303.9 352.0,298.9" stroke="#ff0000" stroke-width="1.0" fill="none" stroke-linejoin="miter"/>
<polyline points="48.4,294.5 86.4,307.2 124.3,290.7 162.3,300.3 200.2,293.5 219.2,293.0 238.2,290.7 257.1,306.3 276.1,291.8 295.1,303.6 314.1,298.2 333.0,294.2 352.0,285.1" stroke="#00bfbf" stroke-width="1.0" fill="none" stroke-linejoin="miter"/>
<polyline points="48.4,306.8 86.4,290.2 124.3,313.9 162.3,289.2 200.2,306.1 219.2,299.0 238.2,330.0 257.1,302.1 276.1,337.0 295.1,301.2 314.1,339.7 333.0,302.9 352.0,316.9" stroke="#bf00bf" stroke-width="1.0" fill="none" stroke-linejoin="miter"/>
<polyline points="48.4,311.2 86.4,283.2 124.3,307.4 162.3,280.3 200.2,305.2 219.2,313.0 238.2,285.8 257.1,301.7 276.1,307.5 295.1,305.7 314.1,307.2 333.0,290.5 352.0,303.7" stroke="#bfbf00" stroke-width="1.0" fill="none" stroke-linejoin="miter"/>
<polyline points="48.4,303.5 86.4,333.6 124.3,298.3 162.3,320.5 200.2,350.2 219.2,317.8 238.2,301.1 257.1,308.1 276.1,297.3 295.1,298.6 314.1,292.1 333.0,292.9 352.0,298.3" stroke="#404040" stroke-width="1.0" fill="none" stroke-linejoin="miter"/>
<polyline points="48.4,329.6 86.4,304.8 124.3,359.5 162.3,329.4 200.2,325.2 219.2,330.0 238.2,306.2 257.1,315.2 276.1,320.1 295.1,323.5 314.1,314.7 333.0,305.1 352.0,299.4" stroke="#0000ff" stroke-width="1.0" fill="none" stroke-linejoin="miter"/>
<polyline points="48.4,307.3 86.4,309.3 124.3,326.6 162.3,307.3 200.2,329.6 219.2,315.0 238.2,325.5 257.1,301.7 276.1,311.3 295.1,337.9 314.1,316.1 333.0,299.2 352.0,305.6" stroke="#008000" stroke-width="1.0" fill="none" stroke-linejoin="miter"/>
<polyline points="48.4,343.9 86.4,309.5 124.3,323.0 162.3,318.0 200.2,313.6 219.2,304.0 238.2,296.4 257.1,300.6 276.1,306.3 295.1,302.3 314.1,309.5 333.0,325.5 352.0,322.4" stroke="#ff0000" stroke-width="1.0" fill="none" stroke-linejoin="miter"/>
<polyline points="48.4,296.9 86.4,285.1 124.3,296.0 162.3,281.0 200.2,298.0 219.2,296.4 238.2,288.6 257.1,287.7 276.1,303.8 295.1,318.0 314.1,295.4 333.0,286.0 352.0,284.6" stroke="#00bfbf" stroke-width="1.0" fill="none" stroke-linejoin="miter"/>
<polyline points="48.4,311.8 86.4,289.8 124.3,294.3 162.3,292.0 200.2,312.8 219.2,328.5 238.2,357.8 257.1,295.5 276.1,352.0 295.1,304.1 314.1,329.0 333.0,299.5 352.0,317.6" stroke="#bf00bf" stroke-width="1.0" fill="none" stroke-linejoin="miter"/>
<polyline points="48.4,293.3 86.4,316.8 124.3,300.5 162.3,311.0 200.2,289.3 219.2,307.7 238.2,287.4 257.1,323.3 276.1,287.2 295.1,296.8 314.1,285.2 333.0,288.6 352.0,297.6" stroke="#bfbf00" stroke-width="1.0" fill="none" stroke-linejoin="miter"/>
<polyline points="48.4,321.8 86.4,284.2 124.3,291.9 162.3,311.6 200.2,291.1 219.2,333.6 238.2,322.5 257.1,286.4 276.1,310.9 295.1,329.7 314.1,300.3 333.0,295.5 352.0,284.6" stroke="#404040" stroke-width="1.0" fill="none" stroke-linejoin="miter"/>
<polyline points="48.4,319.1 86.4,317.0 124.3,309.5 162.3,302.4 200.2,347.9 219.2,342.3 238.2,320.8 257.1,323.3 276.1,300.2 295.1,301.2 314.1,311.3 333.0,318.9 352.0,323.5" stroke="#0000ff" stroke-width="1.0" fill="none" stroke-linejoin="miter"/>
<polyline points="48.4,291.5 86.4,284.7 124.3,296.1 162.3,285.5 200.2,288.7 219.2,288.6 238.2,303.9 257.1,294.9 276.1,282.4 295.1,308.5 314.1,286.8 333.0,299.5 352.0,304.1" stroke="#008000" stroke-width="1.0" fill="none" stroke-linejoin="miter"/>
<polyline points="48.4,309.5 86.4,289.0 124.3,290.0 162.3,285.4 200.2,289.2 219.2,304.9 238.2,294.5 257.1,296.3 276.1,286.5 295.1,290.1 314.1,293.6 333.0,288.2 352.0,296.3" stroke="#ff0000" stroke-width="1.0" fill="none" stroke-linejoin="miter"/>
<polyline points="48.4,320.8 86.4,343.8 124.3,330.4 162.3,351.6 200.2,319.0 219.2,326.0 238.2,342.1 257.1,334.7 276.1,351.5 295.1,324.2 314.1,350.8 333.0,329.3 352.0,331.9" stroke="#00bfbf" stroke-width="1.0" fill="none" stroke-linejoin="miter"/>
<polyline points="48.4,308.1 86.4,285.7 124.3,297.4 162.3,289.1 200.2,294.5 219.2,301.8 238.2,294.6 257.1,300.0 276.1,295.5 295.1,312.2 314.1,311.8 333.0,303.9 352.0,290.3" stroke="#bf00bf" stroke-width="1.0" fill="none" stroke-linejoin="miter"/>
<polyline points="48.4,301.8 86.4,292.5 124.3,319.8 162.3,296.2 200.2,303.3 219.2,300.0 238.2,304.4 257.1,293.4 276.1,293.5 295.1,326.0 314.1,332.1 333.0,299.8 352.0,305.1" stroke="#bfbf00" stroke-width="1.0" fill="none" stroke-linejoin="miter"/>
<polyline points="48.4,306.6 86.4,303.4 124.3,306.7 162.3,300.4 200.2,334.6 219.2,305.9 238.2,300.4 257.1,317.5 276.1,301.7 295.1,301.7 314.1,301.2 333.0,320.7 352.0,326.9" stroke="#404040" stroke-width="1.0" fill="none" stroke-linejoin="miter"/>
<polyline points="48.4,298.3 86.4,320.5 124.3,295.9 162.3,294.9 200.2,334.0 219.2,303.8 238.2,349.3 257.1,301.1 276.1,324.4 295.1,342.7 314.1,330.6 333.0,300.4 352.0,311.3" stroke="#0000ff" stroke-width="1.0" fill="none" stroke-linejoin="miter"/>
<polyline points="48.4,337.2 86.4,313.2 124.3,314.4 162.3,291.3 200.2,304.1 219.2,305.5 238.2,303.7 257.1,307.5 276.1,291.0 295.1,312.2 314.1,290.2 333.0,301.2 352.0,349.5" stroke="#008000" stroke-width="1.0" fill="none" stroke-linejoin="miter"/>
<polyline points="48.4,297.6 86.4,292.6 124.3,294.4 162.3,283.2 200.2,298.5 219.2,292.0 238.2,298.4 257.1,285.8 276.1,286.9 295.1,288.1 314.1,294.7 333.0,303.5 352.0,297.3" stroke="#ff0000" stroke-width="1.0" fill="none" stroke-linejoin="miter"/>
<polyline points="48.4,296.8 86.4,285.1 124.3,316.3 162.3,308.1 200.2,300.9 219.2,301.9 238.2,293.6 257.1,288.5 276.1,297.0 295.1,286.6 314.1,285.6 333.0,326.2 352.0,283.5" stroke="#00bfbf" stroke-width="1.0" fill="none" stroke-linejoin="miter"/>
<polyline points="48.4,292.8 86.4,287.4 124.3,291.4 162.3,285.0 200.2,297.0 219.2,290.7 238.2,308.4 257.1,299.2 276.1,301.2 295.1,302.6 314.1,286.5 333.0,289.0 352.0,340.0" stroke="#bf00bf" stroke-width="1.0" fill="none" stroke-linejoin="miter"/>
<polyline points="48.4,299.4 86.4,309.7 124.3,312.3 162.3,297.9 200.2,291.6 219.2,304.1 238.2,289.3 257.1,304.2 276.1,289.2 295.1,329.7 314.1,300.1 333.0,291.5 352.0,287.3" stroke="#bfbf00" stroke-width="1.0" fill="none" stroke-linejoin="miter"/>
<polyline points="48.4,305.8 86.4,281.9 124.3,296.6 162.3,282.9 200.2,305.0 219.2,322.0 238.2,300.4 257.1,305.9 276.1,293.4 295.1,302.8 314.1,295.0 333.0,294.6 352.0,297.6" stroke="#404040" stroke-width="1.0" fill="none" stroke-linejoin="miter"/>
<polyline points="48.4,302.5 86.4,284.6 124.3,310.1 162.3,295.5 200.2,303.9 219.2,306.4 238.2,345.2 257.1,305.4 276.1,301.8 295.1,297.8 314.1,312.2 333.0,298.4 352.0,292.0" stroke="#0000ff" stroke-width="1.0" fill="none" stroke-linejoin="miter"/>
<polyline points="48.4,332.9 86.4,338.0 124.3,324.9 162.3,342.7 200.2,325.7 219.2,324.6 238.2,323.7 257.1,333.2 276.1,310.1 295.1,346.8 314.1,334.0 333.0,333.9 352.0,312.9" stroke="#008000" stroke-width="1.0" fill="none" stroke-linejoin="miter"/>
<polyline points="48.4,315.3 86.4,290.4 124.3,304.0 162.3,302.9 200.2,300.4 219.2,296.0 238.2,304.1 257.1,291.2 276.1,304.4 295.1,297.8 314.1,291.5 333.0,303.5 352.0,318.4" stroke="#ff0000" stroke-width="1.0" fill="none" stroke-linejoin="miter"/>
<polyline points="48.4,320.1 86.4,303.0 124.3,302.9 162.3,288.6 200.2,325.6 219.2,316.0 238.2,316.5 257.1,305.6 276.1,296.9 295.1,300.9 314.1,288.2 333.0,317.6 352.0,286.1" stroke="#00bfbf" stroke-width="1.0" fill="none" stroke-linejoin="miter"/>
<polyline points="48.4,304.5 86.4,306.1 124.3,299.5 162.3,304.7 200.2,302.8 219.2,345.7 238.2,344.6 257.1,309.0 276.1,316.6 295.1,302.3 314.1,305.5 333.0,300.8 352.0,293.3" stroke="#bf00bf" stroke-width="1.0" fill="none" stroke-linejoin="miter"/>
<polyline points="48.4,296.3 86.4,291.7 124.3,306.8 162.3,303.7 200.2,305.1 219.2,309.1 238.2,295.4 257.1,290.8 276.1,296.4 295.1,289.6 314.1,309.3 333.0,304.5 352.0,286.3" stroke="#bfbf00" stroke-width="1.0" fill="none" stroke-linejoin="miter"/>
<polyline points="48.4,299.0 86.4,284.9 124.3,306.1 162.3,290.2 200.2,305.9 219.2,289.8 238.2,286.5 257.1,312.1 276.1,292.2 295.1,309.8 314.1,307.6 333.0,287.5 352.0,300.6" stroke="#404040" stroke-width="1.0" fill="none" stroke-linejoin="miter"/>
<polyline points="48.4,308.1 86.4,332.0 124.3,310.0 162.3,317.4 200.2,298.0 219.2,324.0 238.2,315.3 257.1,332.9 276.1,325.6 295.1,300.1 314.1,306.6 333.0,310.8 352.0,290.2" stroke="#0000ff" stroke-width="1.0" fill="none" stroke-linejoin="miter"/>
<polyline points="48.4,327.2 86.4,312.1 124.3,340.4 162.3,317.9 200.2,325.5 219.2,314.8 238.2,333.8 257.1,333.7 276.1,326.1 295.1,338.6 314.1,325.0 333.0,328.2 352.0,311.8" stroke="#008000" stroke-width="1.0" fill="none" stroke-linejoin="miter"/>
<polyline points="48.4,323.6 86.4,320.7 124.3,320.7 162.3,311.3 200.2,332.2 219.2,357.0 238.2,364.4 257.1,334.1 276.1,315.2 295.1,324.2 314.1,314.7 333.0,308.3 352.0,322.7" stroke="#ff0000" stroke-width="1.0" fill="none" stroke-linejoin="miter"/>
<polyline points="48.4,333.6 86.4,352.8 124.3,312.6 162.3,315.5 200.2,329.7 219.2,326.2 238.2,339.9 257.1,312.4 276.1,320.2 295.1,310.8 314.1,322.1 333.0,305.7 352.0,308.3" stroke="#00bfbf" stroke-width="1.0" fill="none" stroke-linejoin="miter"/>
<polyline points="48.4,301.6 86.4,311.1 124.3,298.0 162.3,307.8 200.2,316.4 219.2,298.5 238.2,283.7 257.1,316.4 276.1,291.4 295.1,285.9 314.1,302.7 333.0,301.8 352.0,304.7" stroke="#bf00bf" stroke-width="1.0" fill="none" stroke-linejoin="miter"/>
<polyline points="48.4,313.2 86.4,351.7 124.3,326.8 162.3,293.5 200.2,292.8 219.2,301.8 238.2,322.2 257.1,307.6 276.1,331.5 295.1,289.2 314.1,312.1 333.0,288.4 352.0,303.2" stroke="#bfbf00" stroke-width="1.0" fill="none" stroke-linejoin="miter"/>
<polyline points="48.4,326.4 86.4,315.7 124.3,328.4 162.3,314.2 200.2,324.9 219.2,340.7 238.2,349.7 257.1,314.5 276.1,310.7 295.1,321.6 314.1,322.8 333.0,311.5 352.0,333.2" stroke="#404040" stroke-width="1.0" fill="none" stroke-linejoin="miter"/>
<polyline points="48.4,326.4 86.4,337.7 124.3,330.7 162.3,296.2 200.2,314.6 219.2,298.6 238.2,320.1 257.1,299.2 276.1,316.1 295.1,312.6 314.1,310.6 333.0,327.7 352.0,334.6" stroke="#0000ff" stroke-width="1.0" fill="none" stroke-linejoin="miter"/>
<polyline points="48.4,301.8 86.4,286.5 124.3,292.7 162.3,292.5 200.2,371.9 219.2,294.9 238.2,308.1 257.1,292.9 276.1,291.5 295.1,302.6 314.1,283.5 333.0,306.1 352.0,296.3" stroke="#008000" stroke-width="1.0" fill="none" stroke-linejoin="miter"/>
<polyline points="48.4,316.3 86.4,309.9 124.3,316.8 162.3,332.1 200.2,318.4 219.2,317.5 238.2,311.1 257.1,318.3 276.1,332.5 295.1,320.9 314.1,329.0 333.0,327.0 352.0,331.8" stroke="#ff0000" stroke-width="1.0" fill="none" stroke-linejoin="miter"/>
<polyline points="48.4,314.0 86.4,312.9 124.3,301.8 162.3,308.8 200.2,329.7 219.2,288.0 238.2,292.6 257.1,306.1 276.1,294.9 295.1,290.9 314.1,285.6 333.0,302.3 352.0,303.7" stroke="#00bfbf" stroke-width="1.0" fill="none" stroke-linejoin="miter"/>
<polyline points="48.4,301.3 86.4,293.7 124.3,299.0 162.3,284.1 200.2,296.3 219.2,293.8 238.2,287.0 257.1,291.5 276.1,288.1 295.1,304.3 314.1,317.7 333.0,294.1 352.0,312.8" stroke="#bf00bf" stroke-width="1.0" fill="none" stroke-linejoin="miter"/>
<polyline points="48.4,317.8 86.4,301.7 124.3,311.9 162.3,314.3 200.2,324.4 219.2,297.3 238.2,307.1 257.1,346.1 276.1,356.9 295.1,357.5 314.1,304.3 333.0,303.1 352.0,320.5" stroke="#bfbf00" stroke-width="1.0" fill="none" stroke-linejoin="miter"/>
<polyline points="48.4,298.2 86.4,321.1 124.3,314.4 162.3,298.6 200.2,289.6 219.2,288.5 238.2,286.2 257.1,324.1 276.1,302.7 295.1,326.4 314.1,310.7 333.0,299.3 352.0,290.6" stroke="#404040" stroke-width="1.0" fill="none" stroke-linejoin="miter"/>
<polyline points="48.4,325.6 86.4,329.4 124.3,303.7 162.3,303.7 200.2,293.4 219.2,321.9 238.2,287.2 257.1,287.8 276.1,287.7 295.1,300.4 314.1,312.3 333.0,301.8 352.0,287.4" stroke="#0000ff" stroke-width="1.0" fill="none" stroke-linejoin="miter"/>
<polyline points="48.4,321.8 86.4,321.1 124.3,334.7 162.3,301.8 200.2,314.1 219.2,299.0 238.2,314.9 257.1,334.8 276.1,318.6 295.1,318.1 314.1,333.7 333.0,307.5 352.0,326.1" stroke="#008000" stroke-width="1.0" fill="none" stroke-linejoin="miter"/>
<polyline points="48.4,306.6 86.4,291.6 124.3,299.3 162.3,337.2 200.2,311.3 219.2,306.7 238.2,302.5 257.1,300.4 276.1,292.3 295.1,288.9 314.1,295.2 333.0,298.2 352.0,294.2" stroke="#ff0000" stroke-width="1.0" fill="none" stroke-linejoin="miter"/>
<polyline points="48.4,312.5 86.4,324.1 124.3,307.1 162.3,308.5 200.2,290.1 219.2,300.9 238.2,298.6 257.1,291.5 276.1,291.6 295.1,313.7 314.1,316.0 333.0,309.6 352.0,300.5" stroke="#00bfbf" stroke-width="1.0" fill="none" stroke-linejoin="miter"/>
<polyline points="48.4,321.0 86.4,303.3 124.3,301.8 162.3,302.7 200.2,299.0 219.2,292.3 238.2,284.5 257.1,289.2 276.1,307.1 295.1,290.4 314.1,311.7 333.0,317.1 352.0,283.1" stroke="#bf00bf" stroke-width="1.0" fill="none" stroke-linejoin="miter"/>
<polyline points="48.4,298.3 86.4,307.3 124.3,306.9 162.3,287.2 200.2,304.9 219.2,306.4 238.2,315.2 257.1,302.0 276.1,307.1 295.1,297.5 314.1,296.3 333.0,314.7 352.0,302.2" stroke="#bfbf00" stroke-width="1.0" fill="none" stroke-linejoin="miter"/>
<polyline points="48.4,310.7 86.4,314.9 124.3,318.5 162.3,292.9 200.2,305.3 219.2,329.4 238.2,296.0 257.1,335.2 276.1,295.5 295.1,293.4 314.1,312.3 333.0,317.0 352.0,298.8" stroke="#404040" stroke-width="1.0" fill="none" stroke-linejoin="miter"/>
<polyline points="48.4,296.1 86.4,322.9 124.3,293.2 162.3,316.7 200.2,331.4 219.2,310.9 238.2,289.0 257.1,305.8 276.1,301.5 295.1,297.3 314.1,308.8 333.0,297.5 352.0,295.3" stroke="#0000ff" stroke-width="1.0" fill="none" stroke-linejoin="miter"/>
<polyline points="48.4,292.2 86.4,292.9 124.3,303.4 162.3,338.8 200.2,302.1 219.2,288.1 238.2,311.0 257.1,290.6 276.1,307.6 295.1,293.9 314.1,292.1 333.0,289.0 352.0,286.8" stroke="#008000" stroke-width="1.0" fill="none" stroke-linejoin="miter"/>
<polyline points="48.4,316.5 86.4,352.5 124.3,299.7 162.3,291.7 200.2,328.3 219.2,303.3 238.2,313.8 257.1,301.8 276.1,324.3 295.1,310.7 314.1,297.7 333.0,322.1 352.0,302.9" stroke="#ff0000" stroke-width="1.0" fill="none" stroke-linejoin="miter"/>
<polyline points="48.4,306.3 86.4,351.9 124.3,315.3 162.3,326.5 200.2,323.2 219.2,316.5 238.2,325.3 257.1,321.8 276.1,306.4 295.1,308.9 314.1,308.2 333.0,300.9 352.0,300.1" stroke="#00bfbf" stroke-width="1.0" fill="none" stroke-linejoin="miter"/>
<polyline points="48.4,295.8 86.4,294.2 124.3,291.4 162.3,305.8 200.2,296.8 219.2,302.3 238.2,320.7 257.1,291.8 276.1,298.8 295.1,316.2 314.1,341.4 333.0,290.0 352.0,302.8" stroke="#bf00bf" stroke-width="1.0" fill="none" stroke-linejoin="miter"/>
<polyline points="48.4,308.7 86.4,330.0 124.3,325.2 162.3,340.1 200.2,320.6 219.2,296.6 238.2,310.5 257.1,307.3 276.1,291.5 295.1,310.7 314.1,304.4 333.0,293.6 352.0,298.1" stroke="#bfbf00" stroke-width="1.0" fill="none" stroke-linejoin="miter"/>
<polyline points="48.4,327.1 86.4,333.6 124.3,327.4 162.3,334.1 200.2,320.9 219.2,339.2 238.2,356.3 257.1,319.5 276.1,314.8 295.1,337.8 314.1,310.4 333.0,286.6 352.0,271.9" stroke="#404040" stroke-width="1.0" fill="none" stroke-linejoin="miter"/>
<polyline points="48.4,319.2 86.4,323.8 124.3,307.2 162.3,309.1 200.2,329.7 219.2,335.2 238.2,331.7 257.1,304.6 276.1,320.7 295.1,305.3 314.1,308.9 333.0,321.1 352.0,323.6" stroke="#0000ff" stroke-width="1.0" fill="none" stroke-linejoin="miter"/>
<polyline points="48.4,302.2 86.4,305.6 124.3,309.6 162.3,295.6 200.2,312.7 219.2,302.1 238.2,311.6 257.1,293.2 276.1,314.1 295.1,290.9 314.1,284.2 333.0,315.8 352.0,305.0" stroke="#008000" stroke-width="1.0" fill="none" stroke-linejoin="miter"/>
<polyline points="48.4,332.4 86.4,329.9 124.3,306.7 162.3,302.3 200.2,348.6 219.2,304.1 238.2,305.3 257.1,297.8 276.1,295.6 295.1,315.9 314.1,352.3 333.0,299.8 352.0,303.9" stroke="#ff0000" stroke-width="1.0" fill="none" stroke-linejoin="miter"/>
<polyline points="48.4,295.8 86.4,293.3 124.3,364.1 162.3,307.7 200.2,292.1 219.2,314.0 238.2,288.3 257.1,301.9 276.1,286.0 295.1,314.7 314.1,324.3 333.0,290.4 352.0,301.8" stroke="#00bfbf" stroke-width="1.0" fill="none" stroke-linejoin="miter"/>
<polyline points="48.4,347.1 86.4,327.1 124.3,325.6 162.3,330.2 200.2,323.7 219.2,313.5 238.2,321.2 257.1,321.2 276.1,316.7 295.1,326.2 314.1,354.2 333.0,315.8 352.0,328.3" stroke="#bf00bf" stroke-width="1.0" fill="none" stroke-linejoin="miter"/>
<polyline points="48.4,311.9 86.4,341.1 124.3,340.6 162.3,317.6 200.2,318.0 219.2,323.4 238.2,318.7 257.1,308.2 276.1,304.9 295.1,331.0 314.1,316.0 333.0,302.0 352.0,304.5" stroke="#bfbf00" stroke-width="1.0" fill="none" stroke-linejoin="miter"/>
<polyline points="48.4,305.7 86.4,318.0 124.3,304.2 162.3,293.2 200.2,300.7 219.2,291.0 238.2,286.8 257.1,289.7 276.1,301.2 295.1,303.1 314.1,295.0 333.0,291.4 352.0,305.4" stroke="#404040" stroke-width="1.0" fill="none" stroke-linejoin="miter"/>
<polyline points="48.4,311.6 86.4,301.5 124.3,334.3 162.3,305.5 200.2,338.0 219.2,322.2 238.2,312.2 257.1,326.3 276.1,328.5 295.1,312.3 314.1,318.8 333.0,316.1 352.0,305.6" stroke="#0000ff" stroke-width="1.0" fill="none" stroke-linejoin="miter"/>
<polyline points="48.4,290.8 86.4,279.7 124.3,290.7 162.3,328.5 200.2,314.6 219.2,312.0 238.2,333.7 257.1,310.9 276.1,338.7 295.1,316.8 314.1,337.0 333.0,319.2 352.0,314.1" stroke="#008000" stroke-width="1.0" fill="none" stroke-linejoin="miter"/>
<polyline points="48.4,299.8 86.4,296.5 124.3,319.4 162.3,284.9 200.2,301.5 219.2,298.8 238.2,286.8 257.1,288.4 276.1,325.8 295.1,298.6 314.1,290.9 333.0,295.9 352.0,291.6" stroke="#ff0000" stroke-width="1.0" fill="none" stroke-linejoin="miter"/>
<polyline points="48.4,311.5 86.4,313.8 124.3,307.0 162.3,322.7 200.2,395.1 219.2,316.2 238.2,323.7 257.1,323.9 276.1,293.9 295.1,306.7 314.1,330.5 333.0,310.6 352.0,310.7" stroke="#00bfbf" stroke-width="1.0" fill="none" stroke-linejoin="miter"/>
<polyline points="48.4,347.3 86.4,348.9 124.3,325.2 162.3,314.5 200.2,320.0 219.2,315.2 238.2,328.1 257.1,321.5 276.1,310.4 295.1,313.7 314.1,314.7 333.0,325.2 352.0,324.4" stroke="#bf00bf" stroke-width="1.0" fill="none" stroke-linejoin="miter"/>
<polyline points="48.4,305.3 86.4,296.6 124.3,308.9 162.3,283.5 200.2,304.2 219.2,307.9 238.2,298.2 257.1,312.9 276.1,303.0 295.1,306.6 314.1,295.8 333.0,305.1 352.0,316.6" stroke="#bfbf00" stroke-width="1.0" fill="none" stroke-linejoin="miter"/>
<polyline points="48.4,303.1 86.4,306.7 124.3,295.3 162.3,288.2 200.2,305.5 219.2,294.7 238.2,304.2 257.1,322.8 276.1,297.3 295.1,289.0 314.1,290.6 333.0,288.0 352.0,313.4" stroke="#404040" stroke-width="1.0" fill="none" stroke-linejoin="miter"/>
<polyline points="48.4,288.2 86.4,281.6 124.3,317.7 162.3,295.1 200.2,296.6 219.2,317.6 238.2,307.0 257.1,302.7 276.1,298.6 295.1,310.5 314.1,292.8 333.0,306.4 352.0,315.7" stroke="#0000ff" stroke-width="1.0" fill="none" stroke-linejoin="miter"/>
<polyline points="48.4,300.8 86.4,342.9 124.3,319.6 162.3,304.6 200.2,308.9 219.2,342.3 238.2,301.0 257.1,344.7 276.1,329.2 295.1,350.9 314.1,305.4 333.0,299.9 352.0,304.5" stroke="#008000" stroke-width="1.0" fill="none" stroke-linejoin="miter"/>
<polyline points="48.4,307.8 86.4,282.9 124.3,308.2 162.3,297.9 200.2,293.5 219.2,303.2 238.2,327.2 257.1,294.6 276.1,310.5 295.1,295.2 314.1,364.4 333.0,288.0 352.0,313.0" stroke="#ff0000" stroke-width="1.0" fill="none" stroke-linejoin="miter"/>
<polyline points="48.4,327.3 86.4,320.1 124.3,332.4 162.3,347.8 200.2,327.8 219.2,317.6 238.2,321.1 257.1,322.9 276.1,318.8 295.1,332.1 314.1,328.0 333.0,328.5 352.0,317.0" stroke="#00bfbf" stroke-width="1.0" fill="none" stroke-linejoin="miter"/>
<polyline points="48.4,323.8 86.4,320.6 124.3,316.1 162.3,331.5 200.2,318.5 219.2,327.7 238.2,346.1 257.1,344.9 276.1,351.6 295.1,317.4 314.1,332.4 333.0,321.0 352.0,316.6" stroke="#bf00bf" stroke-width="1.0" fill="none" stroke-linejoin="miter"/>
<polyline points="48.4,334.4 86.4,349.6 124.3,311.4 162.3,350.6 200.2,349.4 219.2,318.2 238.2,340.5 257.1,322.4 276.1,339.6 295.1,331.5 314.1,320.1 333.0,336.5 352.0,375.4" stroke="#bfbf00" stroke-width="1.0" fill="none" stroke-linejoin="miter"/>
<polyline points="48.4,307.6 86.4,350.1 124.3,289.3 162.3,288.8 200.2,293.0 219.2,295.1 238.2,310.3 257.1,305.6 276.1,290.0 295.1,298.8 314.1,290.8 333.0,289.1 352.0,289.7" stroke="#404040" stroke-width="1.0" fill="none" stroke-linejoin="miter"/>
<polyline points="48.4,306.8 86.4,286.7 124.3,294.0 162.3,285.3 200.2,299.6 219.2,288.9 238.2,287.0 257.1,333.5 276.1,304.5 295.1,287.4 314.1,289.4 333.0,291.4 352.0,295.5" stroke="#0000ff" stroke-width="1.0" fill="none" stroke-linejoin="miter"/>
<polyline points="48.4,329.1 86.4,326.3 124.3,307.0 162.3,303.1 200.2,319.3 219.2,345.1 238.2,318.7 257.1,301.8 276.1,322.1 295.1,311.4 314.1,294.3 333.0,317.7 352.0,301.6" stroke="#008000" stroke-width="1.0" fill="none" stroke-linejoin="miter"/>
<polyline points="48.4,330.2 86.4,312.1 124.3,308.1 162.3,310.4 200.2,329.3 219.2,314.1 238.2,310.2 257.1,314.4 276.1,295.9 295.1,295.0 314.1,335.4 333.0,333.9 352.0,303.8" stroke="#ff0000" stroke-width="1.0" fill="none" stroke-linejoin="miter"/>
<polyline points="48.4,307.7 86.4,339.3 124.3,321.6 162.3,306.1 200.2,307.4 219.2,303.1 238.2,317.5 257.1,343.0 276.1,349.5 295.1,314.6 314.1,347.6 333.0,328.2 352.0,324.1" stroke="#00bfbf" stroke-width="1.0" fill="none" stroke-linejoin="miter"/>
<polyline points="48.4,315.1 86.4,294.0 124.3,299.7 162.3,327.8 200.2,306.3 219.2,320.8 238.2,313.8 257.1,312.3 276.1,315.5 295.1,304.0 314.1,308.2 333.0,316.2 352.0,295.1" stroke="#bf00bf" stroke-width="1.0" fill="none" stroke-linejoin="miter"/>
<polyline points="48.4,323.8 86.4,309.4 124.3,315.5 162.3,311.8 200.2,359.4 219.2,307.6 238.2,316.3 257.1,307.0 276.1,324.3 295.1,329.6 314.1,302.2 333.0,301.4 352.0,293.7" stroke="#bfbf00" stroke-width="1.0" fill="none" stroke-linejoin="miter"/>
<polyline points="48.4,305.9 86.4,322.1 124.3,342.3 162.3,313.7 200.2,314.5 219.2,308.8 238.2,302.3 257.1,335.9 276.1,331.1 295.1,316.8 314.1,316.0 333.0,315.4 352.0,318.8" stroke="#404040" stroke-width="1.0" fill="none" stroke-linejoin="miter"/>
<polyline points="48.4,303.3 86.4,316.0 124.3,302.8 162.3,299.5 200.2,300.4 219.2,301.2 238.2,296.7 257.1,313.2 276.1,297.4 295.1,354.3 314.1,327.1 333.0,293.7 352.0,288.2" stroke="#0000ff" stroke-width="1.0" fill="none" stroke-linejoin="miter"/>
<polyline points="48.4,306.1 86.4,319.8 124.3,309.9 162.3,331.0 200.2,322.9 219.2,299.7 238.2,336.1 257.1,301.3 276.1,292.4 295.1,305.1 314.1,301.7 333.0,295.5 352.0,297.7" stroke="#008000" stroke-width="1.0" fill="none" stroke-linejoin="miter"/>
<polyline points="48.4,322.5 86.4,323.0 124.3,328.5 162.3,323.2 200.2,367.8 219.2,324.2 238.2,338.8 257.1,320.8 276.1,325.0 295.1,340.2 314.1,326.9 333.0,331.2 352.0,326.9" stroke="#ff0000" stroke-width="1.0" fill="none" stroke-linejoin="miter"/>
<polyline points="48.4,313.8 86.4,285.6 124.3,311.1 162.3,284.5 200.2,314.6 219.2,290.3 238.2,295.0 257.1,300.5 276.1,283.2 295.1,311.5 314.1,280.5 333.0,304.8 352.0,285.2" stroke="#00bfbf" stroke-width="1.0" fill="none" stroke-linejoin="miter"/>
<polyline points="48.4,289.6 86.4,329.5 124.3,326.7 162.3,309.7 200.2,334.0 219.2,334.9 238.2,337.4 257.1,319.0 276.1,344.1 295.1,335.8 314.1,354.1 333.0,344.3 352.0,326.9" stroke="#bf00bf" stroke-width="1.0" fill="none" stroke-linejoin="miter"/>
<polyline points="48.4,293.1 86.4,341.9 124.3,289.0 162.3,294.9 200.2,300.3 219.2,305.2 238.2,316.8 257.1,333.3 276.1,295.9 295.1,296.3 314.1,296.5 333.0,305.4 352.0,299.0" stroke="#bfbf00" stroke-width="1.0" fill="none" stroke-linejoin="miter"/>
<polyline points="48.4,354.6 86.4,339.8 124.3,324.8 162.3,333.9 200.2,328.6 219.2,348.0 238.2,354.0 257.1,334.0 276.1,335.9 295.1,317.6 314.1,352.0 333.0,323.1 352.0,320.2" stroke="#404040" stroke-width="1.0" fill="none" stroke-linejoin="miter"/>
<polyline points="48.4,314.8 86.4,284.1 124.3,368.5 162.3,283.6 200.2,308.1 219.2,299.9 238.2,288.9 257.1,302.1 276.1,284.6 295.1,299.4 314.1,300.2 333.0,296.3 352.0,315.0" stroke="#0000ff" stroke-width="1.0" fill="none" stroke-linejoin="miter"/>
<polyline points="48.4,300.4 86.4,306.8 124.3,314.3 162.3,299.3 200.2,301.4 219.2,310.3 238.2,313.9 257.1,301.8 276.1,312.2 295.1,289.9 314.1,296.9 333.0,299.8 352.0,318.5" stroke="#008000" stroke-width="1.0" fill="none" stroke-linejoin="miter"/>
<polyline points="48.4,291.3 86.4,282.7 124.3,315.9 162.3,353.1 200.2,298.7 219.2,313.1 238.2,318.2 257.1,326.2 276.1,287.5 295.1,293.8 314.1,305.2 333.0,302.2 352.0,305.6" stroke="#ff0000" stroke-width="1.0" fill="none" stroke-linejoin="miter"/>
<polyline points="48.4,290.9 86.4,320.2 124.3,316.0 162.3,321.9 200.2,316.6 219.2,346.9 238.2,329.9 257.1,335.2 276.1,326.1 295.1,346.0 314.1,354.7 333.0,331.0 352.0,313.4" stroke="#00bfbf" stroke-width="1.0" fill="none" stroke-linejoin="miter"/>
<polyline points="48.4,304.9 86.4,320.6 124.3,319.3 162.3,344.6 200.2,353.0 219.2,321.0 238.2,317.0 257.1,336.6 276.1,299.7 295.1,327.3 314.1,322.7 333.0,306.6 352.0,305.1" stroke="#bf00bf" stroke-width="1.0" fill="none" stroke-linejoin="miter"/>
<polyline points="48.4,324.1 86.4,303.9 124.3,324.9 162.3,368.1 200.2,336.2 219.2,329.9 238.2,344.0 257.1,331.7 276.1,328.8 295.1,329.0 314.1,300.6 333.0,306.9 352.0,315.9" stroke="#bfbf00" stroke-width="1.0" fill="none" stroke-linejoin="miter"/>
<polyline points="48.4,311.4 86.4,283.9 124.3,349.3 162.3,293.9 200.2,292.3 219.2,306.3 238.2,290.9 257.1,318.8 276.1,368.1 295.1,291.6 314.1,310.9 333.0,328.0 352.0,312.2" stroke="#404040" stroke-width="1.0" fill="none" stroke-linejoin="miter"/>
<polyline points="48.4,338.6 86.4,289.5 124.3,299.8 162.3,327.4 200.2,346.5 219.2,295.2 238.2,316.3 257.1,302.4 276.1,298.5 295.1,299.6 314.1,349.8 333.0,300.1 352.0,320.3" stroke="#0000ff" stroke-width="1.0" fill="none" stroke-linejoin="miter"/>
<polyline points="48.4,338.0 86.4,322.1 124.3,316.7 162.3,334.4 200.2,341.9 219.2,352.1 238.2,323.6 257.1,331.5 276.1,301.8 295.1,287.2 314.1,273.8 333.0,285.5 352.0,321.7" stroke="#008000" stroke-width="1.0" fill="none" stroke-linejoin="miter"/>
<polyline points="48.4,293.1 86.4,278.1 124.3,288.8 162.3,292.2 200.2,301.7 219.2,310.5 238.2,323.6 257.1,321.4 276.1,319.1 295.1,296.9 314.1,307.9 333.0,293.6 352.0,305.8" stroke="#ff0000" stroke-width="1.0" fill="none" stroke-linejoin="miter"/>
<polyline points="48.4,347.0 86.4,362.6 124.3,327.4 162.3,317.9 200.2,335.6 219.2,323.5 238.2,338.0 257.1,331.0 276.1,325.1 295.1,347.5 314.1,322.1 333.0,315.1 352.0,281.6" stroke="#00bfbf" stroke-width="1.0" fill="none" stroke-linejoin="miter"/>
<polyline points="48.4,362.8 86.4,302.2 124.3,299.7 162.3,285.7 200.2,298.7 219.2,294.6 238.2,287.4 257.1,312.2 276.1,330.3 295.1,309.3 314.1,321.1 333.0,298.1 352.0,302.0" stroke="#bf00bf" stroke-width="1.0" fill="none" stroke-linejoin="miter"/>
<polyline points="48.4,305.9 86.4,359.9 124.3,310.8 162.3,313.8 200.2,317.5 219.2,311.8 238.2,307.5 257.1,317.2 276.1,309.4 295.1,307.2 314.1,308.7 333.0,312.9 352.0,297.4" stroke="#bfbf00" stroke-width="1.0" fill="none" stroke-linejoin="miter"/>
<polyline points="48.4,320.4 86.4,300.6 124.3,320.6 162.3,342.9 200.2,325.6 219.2,321.3 238.2,305.4 257.1,323.8 276.1,313.1 295.1,327.5 314.1,316.4 333.0,321.1 352.0,352.1" stroke="#404040" stroke-width="1.0" fill="none" stroke-linejoin="miter"/>
<polyline points="48.4,312.6 86.4,309.3 124.3,308.7 162.3,308.3 200.2,317.6 219.2,315.4 238.2,307.3 257.1,314.6 276.1,309.2 295.1,311.6 314.1,315.3 333.0,319.5 352.0,303.9" stroke="#0000ff" stroke-width="1.0" fill="none" stroke-linejoin="miter"/>
<polyline points="48.4,296.8 86.4,281.0 124.3,298.8 162.3,285.1 200.2,292.1 219.2,302.0 238.2,296.5 257.1,309.8 276.1,343.0 295.1,293.0 314.1,297.7 333.0,305.9 352.0,286.9" stroke="#008000" stroke-width="1.0" fill="none" stroke-linejoin="miter"/>
<polyline points="48.4,332.3 86.4,328.2 124.3,286.7 162.3,323.7 200.2,337.1 219.2,341.2 238.2,345.7 257.1,344.9 276.1,322.8 295.1,340.0 314.1,321.0 333.0,326.3 352.0,327.3" stroke="#ff0000" stroke-width="1.0" fill="none" stroke-linejoin="miter"/>
<polyline points="48.4,312.7 86.4,317.6 124.3,286.7 162.3,313.0 200.2,319.1 219.2,299.0 238.2,295.9 257.1,300.9 276.1,309.0 295.1,331.8 314.1,307.6 333.0,303.9 352.0,304.8" stroke="#00bfbf" stroke-width="1.0" fill="none" stroke-linejoin="miter"/>
<polyline points="48.4,298.6 86.4,280.6 124.3,298.2 162.3,283.7 200.2,304.6 219.2,313.1 238.2,292.9 257.1,300.2 276.1,283.4 295.1,291.4 314.1,284.4 333.0,289.8 352.0,305.5" stroke="#bf00bf" stroke-width="1.0" fill="none" stroke-linejoin="miter"/>
<polyline points="48.4,318.8 86.4,351.1 124.3,305.9 162.3,308.7 200.2,329.7 219.2,329.0 238.2,315.9 257.1,330.8 276.1,320.9 295.1,338.0 314.1,326.6 333.0,334.2 352.0,315.4" stroke="#bfbf00" stroke-width="1.0" fill="none" stroke-linejoin="miter"/>
<polyline points="48.4,296.5 86.4,283.2 124.3,310.5 162.3,284.5 200.2,291.7 219.2,298.6 238.2,293.9 257.1,312.9 276.1,335.6 295.1,297.0 314.1,305.7 333.0,298.4 352.0,294.2" stroke="#404040" stroke-width="1.0" fill="none" stroke-linejoin="miter"/>
<polyline points="48.4,351.8 86.4,348.4 124.3,310.5 162.3,337.5 200.2,331.7 219.2,310.1 238.2,338.2 257.1,336.5 276.1,340.7 295.1,307.5 314.1,345.0 333.0,313.3 352.0,303.2" stroke="#0000ff" stroke-width="1.0" fill="none" stroke-linejoin="miter"/>
<polyline points="48.4,303.1 86.4,312.7 124.3,314.6 162.3,311.4 200.2,331.4 219.2,321.4 238.2,327.7 257.1,322.9 276.1,314.4 295.1,325.9 314.1,309.0 333.0,321.2 352.0,317.8" stroke="#008000" stroke-width="1.0" fill="none" stroke-linejoin="miter"/>
<polyline points="48.4,311.7 86.4,313.1 124.3,313.6 162.3,350.1 200.2,309.7 219.2,319.6 238.2,325.1 257.1,317.4 276.1,331.8 295.1,312.5 314.1,391.4 333.0,315.7 352.0,327.9" stroke="#ff0000" stroke-width="1.0" fill="none" stroke-linejoin="miter"/>
<polyline points="48.4,334.0 86.4,289.8 124.3,293.4 162.3,359.4 200.2,328.0 219.2,306.1 238.2,288.2 257.1,291.0 276.1,287.1 295.1,305.7 314.1,298.3 333.0,329.9 352.0,297.9" stroke="#00bfbf" stroke-width="1.0" fill="none" stroke-linejoin="miter"/>
<polyline points="48.4,295.9 86.4,315.9 124.3,313.0 162.3,300.8 200.2,345.2 219.2,300.0 238.2,316.6 257.1,290.6 276.1,289.0 295.1,297.1 314.1,318.2 333.0,315.8 352.0,307.3" stroke="#bf00bf" stroke-width="1.0" fill="none" stroke-linejoin="miter"/>
<polyline points="48.4,344.6 86.4,328.8 124.3,324.7 162.3,352.6 200.2,326.7 219.2,321.9 238.2,346.0 257.1,331.5 276.1,323.5 295.1,325.4 314.1,324.7 333.0,318.4 352.0,327.0" stroke="#bfbf00" stroke-width="1.0" fill="none" stroke-linejoin="miter"/>
<polyline points="48.4,325.0 86.4,391.0 124.3,335.1 162.3,342.5 200.2,326.6 219.2,346.6 238.2,325.2 257.1,311.6 276.1,344.7 295.1,337.5 314.1,332.4 333.0,316.0 352.0,319.5" stroke="#404040" stroke-width="1.0" fill="none" stroke-linejoin="miter"/>
<polyline points="48.4,297.9 86.4,280.8 124.3,313.5 162.3,283.4 200.2,290.3 219.2,290.1 238.2,309.7 257.1,290.7 276.1,278.5 295.1,315.2 314.1,286.8 333.0,290.4 352.0,284.8" stroke="#0000ff" stroke-width="1.0" fill="none" stroke-linejoin="miter"/>
<polyline points="48.4,308.4 86.4,313.2 124.3,287.8 162.3,322.8 200.2,311.9 219.2,304.2 238.2,303.5 257.1,312.1 276.1,292.3 295.1,312.3 314.1,302.8 333.0,304.9 352.0,307.4" stroke="#008000" stroke-width="1.0" fill="none" stroke-linejoin="miter"/>
<polyline points="48.4,313.8 86.4,340.3 124.3,314.8 162.3,284.6 200.2,288.6 219.2,311.5 238.2,281.6 257.1,285.7 276.1,284.2 295.1,305.8 314.1,287.7 333.0,289.0 352.0,283.5" stroke="#ff0000" stroke-width="1.0" fill="none" stroke-linejoin="miter"/>
<polyline points="48.4,331.4 86.4,290.9 124.3,317.5 162.3,278.8 200.2,316.4 219.2,323.9 238.2,300.9 257.1,305.5 276.1,303.3 295.1,298.4 314.1,303.3 333.0,302.3 352.0,286.9" stroke="#00bfbf" stroke-width="1.0" fill="none" stroke-linejoin="miter"/>
<polyline points="48.4,330.8 86.4,364.1 124.3,326.1 162.3,342.7 200.2,316.2 219.2,338.0 238.2,345.8 257.1,319.6 276.1,345.7 295.1,326.7 314.1,334.6 333.0,341.7 352.0,332.1" stroke="#bf00bf" stroke-width="1.0" fill="none" stroke-linejoin="miter"/>
<polyline points="48.4,336.6 86.4,335.0 124.3,330.1 162.3,322.2 200.2,331.2 219.2,334.8 238.2,321.1 257.1,330.5 276.1,357.4 295.1,326.0 314.1,355.6 333.0,327.5 352.0,331.8" stroke="#bfbf00" stroke-width="1.0" fill="none" stroke-linejoin="miter"/>
<polyline points="48.4,323.0 86.4,338.7 124.3,337.4 162.3,337.0 200.2,339.3 219.2,330.7 238.2,371.3 257.1,310.8 276.1,351.4 295.1,333.7 314.1,312.5 333.0,309.8 352.0,328.8" stroke="#404040" stroke-width="1.0" fill="none" stroke-linejoin="miter"/>
<polyline points="48.4,310.9 86.4,305.2 124.3,311.3 162.3,331.5 200.2,310.9 219.2,308.4 238.2,277.7 257.1,307.8 276.1,300.0 295.1,332.5 314.1,345.3 333.0,302.3 352.0,311.4" stroke="#0000ff" stroke-width="1.0" fill="none" stroke-linejoin="miter"/>
<polyline points="48.4,316.6 86.4,297.9 124.3,307.6 162.3,318.7 200.2,295.2 219.2,295.1 238.2,298.4 257.1,302.7 276.1,295.4 295.1,314.6 314.1,286.2 333.0,304.1 352.0,390.1" stroke="#008000" stroke-width="1.0" fill="none" stroke-linejoin="miter"/>
<polyline points="48.4,301.8 86.4,329.7 124.3,291.7 162.3,335.5 200.2,301.8 219.2,305.5 238.2,290.2 257.1,307.7 276.1,316.8 295.1,320.9 314.1,315.3 333.0,330.5 352.0,310.0" stroke="#ff0000" stroke-width="1.0" fill="none" stroke-linejoin="miter"/>
<polyline points="48.4,307.6 86.4,296.3 124.3,316.8 162.3,306.5 200.2,293.0 219.2,321.9 238.2,277.2 257.1,300.5 276.1,308.9 295.1,309.5 314.1,317.5 333.0,310.0 352.0,325.0" stroke="#00bfbf" stroke-width="1.0" fill="none" stroke-linejoin="miter"/>
<polyline points="48.4,289.6 86.4,306.2 124.3,310.7 162.3,286.0 200.2,346.9 219.2,298.7 238.2,284.1 257.1,290.6 276.1,293.1 295.1,290.2 314.1,293.4 333.0,315.3 352.0,286.5" stroke="#bf00bf" stroke-width="1.0" fill="none" stroke-linejoin="miter"/>
<polyline points="48.4,304.6 86.4,292.6 124.3,300.3 162.3,302.1 200.2,322.1 219.2,307.3 238.2,305.1 257.1,308.5 276.1,310.5 295.1,296.8 314.1,315.5 333.0,303.2 352.0,285.9" stroke="#bfbf00" stroke-width="1.0" fill="none" stroke-linejoin="miter"/>
<polyline points="48.4,325.7 86.4,332.3 124.3,330.9 162.3,310.5 200.2,312.8 219.2,326.8 238.2,351.5 257.1,314.7 276.1,330.9 295.1,310.1 314.1,346.7 333.0,309.3 352.0,332.3" stroke="#404040" stroke-width="1.0" fill="none" stroke-linejoin="miter"/>
<polyline points="48.4,344.1 86.4,323.2 124.3,327.4 162.3,344.1 200.2,315.5 219.2,318.7 238.2,335.4 257.1,344.1 276.1,327.1 295.1,323.1 314.1,343.8 333.0,329.0 352.0,331.7" stroke="#0000ff" stroke-width="1.0" fill="none" stroke-linejoin="miter"/>
<polyline points="48.4,315.0 86.4,331.8 124.3,312.5 162.3,317.6 200.2,335.2 219.2,320.6 238.2,318.9 257.1,344.4 276.1,319.4 295.1,340.5 314.1,311.8 333.0,320.0 352.0,332.5" stroke="#008000" stroke-width="1.0" fill="none" stroke-linejoin="miter"/>
<polyline points="48.4,332.3 86.4,301.9 124.3,323.1 162.3,299.9 200.2,314.0 219.2,302.3 238.2,330.8 257.1,329.2 276.1,308.1 295.1,333.8 314.1,324.3 333.0,306.2 352.0,323.3" stroke="#ff0000" stroke-width="1.0" fill="none" stroke-linejoin="miter"/>
<polyline points="48.4,312.1 86.4,322.3 124.3,306.0 162.3,316.9 200.2,297.5 219.2,334.4 238.2,295.3 257.1,344.7 276.1,291.6 295.1,296.7 314.1,284.7 333.0,294.1 352.0,292.3" stroke="#00bfbf" stroke-width="1.0" fill="none" stroke-linejoin="miter"/>
<polyline points="48.4,320.5 86.4,328.0 124.3,334.9 162.3,278.8 200.2,296.1 219.2,318.9 238.2,310.1 257.1,286.8 276.1,322.8 295.1,326.9 314.1,294.3 333.0,296.4 352.0,294.7" stroke="#bf00bf" stroke-width="1.0" fill="none" stroke-linejoin="miter"/>
<polyline points="48.4,314.1 86.4,286.2 124.3,307.0 162.3,336.7 200.2,304.1 219.2,293.4 238.2,314.8 257.1,288.4 276.1,314.1 295.1,330.6 314.1,283.6 333.0,329.6 352.0,308.6" stroke="#bfbf00" stroke-width="1.0" fill="none" stroke-linejoin="miter"/>
<polyline points="48.4,293.7 86.4,308.9 124.3,290.3 162.3,295.2 200.2,323.4 219.2,303.0 238.2,300.7 257.1,312.7 276.1,295.4 295.1,299.3 314.1,316.8 333.0,289.2 352.0,288.5" stroke="#404040" stroke-width="1.0" fill="none" stroke-linejoin="miter"/>
<polyline points="48.4,298.3 86.4,322.2 124.3,308.4 162.3,297.5 200.2,310.9 219.2,290.0 238.2,288.2 257.1,318.6 276.1,290.7 295.1,312.1 314.1,314.7 333.0,289.2 352.0,281.3" stroke="#0000ff" stroke-width="1.0" fill="none" stroke-linejoin="miter"/>
<polyline points="48.4,318.4 86.4,321.3 124.3,311.6 162.3,310.3 200.2,336.1 219.2,312.4 238.2,316.7 257.1,308.0 276.1,303.0 295.1,339.9 314.1,323.9 333.0,314.1 352.0,314.8" stroke="#008000" stroke-width="1.0" fill="none" stroke-linejoin="miter"/>
<polyline points="48.4,330.0 86.4,318.2 124.3,322.9 162.3,316.3 200.2,338.6 219.2,311.2 238.2,325.9 257.1,346.7 276.1,303.1 295.1,285.9 314.1,272.5 333.0,287.5 352.0,327.0" stroke="#ff0000" stroke-width="1.0" fill="none" stroke-linejoin="miter"/>
<polyline points="48.4,315.8 86.4,325.4 124.3,330.3 162.3,308.6 200.2,311.7 219.2,296.1 238.2,295.0 257.1,314.3 276.1,301.2 295.1,318.5 314.1,304.5 333.0,306.0 352.0,369.4" stroke="#00bfbf" stroke-width="1.0" fill="none" stroke-linejoin="miter"/>
<polyline points="48.4,318.8 86.4,392.0 124.3,306.4 162.3,303.0 200.2,299.4 219.2,303.8 238.2,316.0 257.1,296.6 276.1,293.9 295.1,299.3 314.1,289.5 333.0,317.0 352.0,289.1" stroke="#bf00bf" stroke-width="1.0" fill="none" stroke-linejoin="miter"/>
<polyline points="48.4,333.1 86.4,342.9 124.3,326.5 162.3,318.8 200.2,346.3 219.2,338.6 238.2,313.3 257.1,328.1 276.1,313.5 295.1,316.3 314.1,310.2 333.0,315.3 352.0,307.6" stroke="#bfbf00" stroke-width="1.0" fill="none" stroke-linejoin="miter"/>
<polyline points="48.4,298.8 86.4,320.0 124.3,295.7 162.3,323.3 200.2,311.5 219.2,294.6 238.2,315.2 257.1,304.7 276.1,305.3 295.1,305.0 314.1,303.7 333.0,308.7 352.0,341.0" stroke="#404040" stroke-width="1.0" fill="none" stroke-linejoin="miter"/>
<polyline points="48.4,328.4 86.4,297.4 124.3,299.5 162.3,298.2 200.2,306.4 219.2,303.9 238.2,307.4 257.1,297.8 276.1,331.7 295.1,295.1 314.1,295.4 333.0,299.4 352.0,312.6" stroke="#0000ff" stroke-width="1.0" fill="none" stroke-linejoin="miter"/>
<polyline points="48.4,313.1 86.4,326.2 124.3,292.2 162.3,306.9 200.2,306.3 219.2,308.2 238.2,306.4 257.1,302.3 276.1,293.8 295.1,295.8 314.1,277.8 333.0,299.2 352.0,315.4" stroke="#008000" stroke-width="1.0" fill="none" stroke-linejoin="miter"/>
<polyline points="48.4,312.3 86.4,298.3 124.3,304.9 162.3,321.7 200.2,322.1 219.2,310.5 238.2,316.1 257.1,304.9 276.1,361.5 295.1,299.6 314.1,314.5 333.0,321.5 352.0,306.7" stroke="#ff0000" stroke-width="1.0" fill="none" stroke-linejoin="miter"/>
<polyline points="48.4,316.3 86.4,312.9 124.3,295.8 162.3,279.1 200.2,349.8 219.2,317.0 238.2,316.5 257.1,307.1 276.1,322.7 295.1,301.6 314.1,330.5 333.0,304.1 352.0,310.4" stroke="#00bfbf" stroke-width="1.0" fill="none" stroke-linejoin="miter"/>
<polyline points="48.4,312.6 86.4,293.7 124.3,296.5 162.3,300.8 200.2,289.4 219.2,306.0 238.2,327.3 257.1,303.8 276.1,298.0 295.1,298.2 314.1,298.4 333.0,298.3 352.0,273.7" stroke="#bf00bf" stroke-width="1.0" fill="none" stroke-linejoin="miter"/>
<polyline points="48.4,299.1 86.4,361.2 124.3,298.4 162.3,297.2 200.2,294.9 219.2,305.9 238.2,291.9 257.1,314.2 276.1,291.3 295.1,289.0 314.1,291.5 333.0,289.4 352.0,300.3" stroke="#bfbf00" stroke-width="1.0" fill="none" stroke-linejoin="miter"/>
<polyline points="48.4,295.8 86.4,290.5 124.3,296.8 162.3,302.9 200.2,289.3 219.2,309.3 238.2,299.4 257.1,295.9 276.1,286.8 295.1,298.6 314.1,294.8 333.0,290.1 352.0,303.1" stroke="#404040" stroke-width="1.0" fill="none" stroke-linejoin="miter"/>
<polyline points="48.4,318.2 86.4,321.7 124.3,328.2 162.3,333.0 200.2,328.4 219.2,333.8 238.2,339.6 257.1,331.1 276.1,333.3 295.1,347.8 314.1,332.2 333.0,321.6 352.0,313.5" stroke="#0000ff" stroke-width="1.0" fill="none" stroke-linejoin="miter"/>
<polyline points="48.4,322.3 86.4,289.7 124.3,294.0 162.3,290.6 200.2,302.1 219.2,308.1 238.2,283.5 257.1,293.1 276.1,334.8 295.1,286.7 314.1,300.7 333.0,306.9 352.0,323.3" stroke="#008000" stroke-width="1.0" fill="none" stroke-linejoin="miter"/>
<polyline points="48.4,311.5 86.4,350.2 124.3,313.2 162.3,310.4 200.2,400.8 219.2,307.7 238.2,326.7 257.1,323.1 276.1,316.6 295.1,320.0 314.1,321.4 333.0,310.3 352.0,304.6" stroke="#ff0000" stroke-width="1.0" fill="none" stroke-linejoin="miter"/>
<polyline points="48.4,304.3 86.4,280.1 124.3,309.7 162.3,285.9 200.2,298.1 219.2,330.4 238.2,274.9 257.1,301.5 276.1,306.6 295.1,288.3 314.1,288.0 333.0,292.1 352.0,294.1" stroke="#00bfbf" stroke-width="1.0" fill="none" stroke-linejoin="miter"/>
<polyline points="48.4,315.0 86.4,285.0 124.3,291.1 162.3,289.6 200.2,302.6 219.2,296.8 238.2,294.8 257.1,290.8 276.1,296.5 295.1,286.7 314.1,317.6 333.0,314.0 352.0,303.6" stroke="#bf00bf" stroke-width="1.0" fill="none" stroke-linejoin="miter"/>
<polyline points="48.4,315.9 86.4,327.4 124.3,325.0 162.3,331.9 200.2,322.4 219.2,332.9 238.2,351.8 257.1,318.8 276.1,343.2 295.1,315.4 314.1,320.0 333.0,314.9 352.0,332.6" stroke="#bfbf00" stroke-width="1.0" fill="none" stroke-linejoin="miter"/>
<polyline points="48.4,327.7 86.4,293.0 124.3,306.3 162.3,294.9 200.2,300.5 219.2,314.9 238.2,340.5 257.1,301.8 276.1,331.9 295.1,298.2 314.1,293.8 333.0,302.2 352.0,304.8" stroke="#404040" stroke-width="1.0" fill="none" stroke-linejoin="miter"/>
<polyline points="48.4,322.1 86.4,323.5 124.3,328.8 162.3,325.4 200.2,334.9 219.2,334.1 238.2,279.9 257.1,329.3 276.1,347.1 295.1,317.8 314.1,346.0 333.0,343.6 352.0,314.1" stroke="#0000ff" stroke-width="1.0" fill="none" stroke-linejoin="miter"/>
<polyline points="48.4,294.0 86.4,283.4 124.3,293.6 162.3,281.0 200.2,288.5 219.2,313.9 238.2,286.4 257.1,290.6 276.1,288.1 295.1,308.0 314.1,301.0 333.0,286.1 352.0,281.1" stroke="#008000" stroke-width="1.0" fill="none" stroke-linejoin="miter"/>
<polyline points="48.4,294.3 86.4,301.6 124.3,292.6 162.3,293.0 200.2,313.3 219.2,289.5 238.2,272.5 257.1,286.1 276.1,288.4 295.1,307.3 314.1,315.6 333.0,331.6 352.0,322.4" stroke="#ff0000" stroke-width="1.0" fill="none" stroke-linejoin="miter"/>
<polyline points="48.4,319.8 86.4,295.0 124.3,312.4 162.3,279.5 200.2,331.0 219.2,316.8 238.2,299.7 257.1,310.0 276.1,304.5 295.1,300.5 314.1,312.5 333.0,308.7 352.0,296.2" stroke="#00bfbf" stroke-width="1.0" fill="none" stroke-linejoin="miter"/>
<polyline points="48.4,296.0 86.4,360.6 124.3,289.8 162.3,280.2 200.2,303.3 219.2,326.3 238.2,289.4 257.1,304.7 276.1,284.4 295.1,288.6 314.1,282.6 333.0,290.6 352.0,316.2" stroke="#bf00bf" stroke-width="1.0" fill="none" stroke-linejoin="miter"/>
<polyline points="48.4,306.0 86.4,325.4 124.3,325.9 162.3,333.6 200.2,309.8 219.2,303.8 238.2,348.6 257.1,306.0 276.1,328.9 295.1,307.6 314.1,319.1 333.0,296.9 352.0,320.6" stroke="#bfbf00" stroke-width="1.0" fill="none" stroke-linejoin="miter"/>
<polyline points="48.4,317.3 86.4,301.6 124.3,331.9 162.3,296.2 200.2,295.6 219.2,323.3 238.2,293.1 257.1,319.7 276.1,305.7 295.1,298.7 314.1,313.1 333.0,323.9 352.0,297.0" stroke="#404040" stroke-width="1.0" fill="none" stroke-linejoin="miter"/>
<polyline points="48.4,329.3 86.4,319.2 124.3,331.8 162.3,352.1 200.2,344.7 219.2,344.4 238.2,282.7 257.1,316.9 276.1,323.8 295.1,330.9 314.1,324.8 333.0,331.0 352.0,343.1" stroke="#0000ff" stroke-width="1.0" fill="none" stroke-linejoin="miter"/>
<polyline points="48.4,314.9 86.4,300.8 124.3,325.4 162.3,336.5 200.2,329.2 219.2,316.1 238.2,320.1 257.1,319.8 276.1,272.3 295.1,325.5 314.1,328.8 333.0,344.2 352.0,312.3" stroke="#008000" stroke-width="1.0" fill="none" stroke-linejoin="miter"/>
<polyline points="48.4,312.6 86.4,352.0 124.3,314.4 162.3,300.1 200.2,301.3 219.2,298.8 238.2,280.0 257.1,320.8 276.1,307.3 295.1,289.2 314.1,301.6 333.0,314.9 352.0,309.6" stroke="#ff0000" stroke-width="1.0" fill="none" stroke-linejoin="miter"/>
<polyline points="48.4,300.0 86.4,289.0 124.3,310.0 162.3,298.8 200.2,313.4 219.2,294.5 238.2,286.4 257.1,293.1 276.1,272.9 295.1,309.1 314.1,288.1 333.0,290.8 352.0,304.1" stroke="#00bfbf" stroke-width="1.0" fill="none" stroke-linejoin="miter"/>
<polyline points="48.4,297.5 86.4,295.3 124.3,287.2 162.3,289.8 200.2,309.3 219.2,304.7 238.2,299.6 257.1,295.7 276.1,300.8 295.1,304.7 314.1,309.3 333.0,297.1 352.0,301.5" stroke="#bf00bf" stroke-width="1.0" fill="none" stroke-linejoin="miter"/>
<polyline points="48.4,304.2 86.4,300.5 124.3,302.0 162.3,295.4 200.2,301.3 219.2,325.3 238.2,298.8 257.1,294.5 276.1,317.3 295.1,297.5 314.1,306.5 333.0,302.9 352.0,295.9" stroke="#bfbf00" stroke-width="1.0" fill="none" stroke-linejoin="miter"/>
<polyline points="48.4,295.7 86.4,313.9 124.3,317.0 162.3,280.0 200.2,304.1 219.2,293.7 238.2,288.0 257.1,302.3 276.1,337.7 295.1,289.6 314.1,291.2 333.0,286.5 352.0,287.5" stroke="#404040" stroke-width="1.0" fill="none" stroke-linejoin="miter"/>
<polyline points="48.4,299.6 86.4,289.8 124.3,308.8 162.3,309.6 200.2,294.4 219.2,313.6 238.2,301.2 257.1,313.3 276.1,290.0 295.1,303.4 314.1,299.9 333.0,301.1 352.0,347.6" stroke="#0000ff" stroke-width="1.0" fill="none" stroke-linejoin="miter"/>
<polyline points="48.4,316.0 86.4,315.2 124.3,319.0 162.3,297.6 200.2,377.2 219.2,313.4 238.2,298.2 257.1,342.3 276.1,298.5 295.1,300.0 314.1,305.8 333.0,319.5 352.0,314.1" stroke="#008000" stroke-width="1.0" fill="none" stroke-linejoin="miter"/>
<polyline points="48.4,319.6 86.4,326.2 124.3,379.7 162.3,329.5 200.2,333.4 219.2,323.8 238.2,333.6 257.1,329.3 276.1,319.5 295.1,310.3 314.1,314.0 333.0,312.0 352.0,311.2" stroke="#ff0000" stroke-width="1.0" fill="none" stroke-linejoin="miter"/>
<polyline points="48.4,321.6 86.4,329.4 124.3,331.9 162.3,315.2 200.2,339.2 219.2,318.0 238.2,334.4 257.1,314.2 276.1,324.5 295.1,338.8 314.1,278.5 333.0,337.6 352.0,340.3" stroke="#00bfbf" stroke-width="1.0" fill="none" stroke-linejoin="miter"/>
<polyline points="48.4,302.3 86.4,301.2 124.3,301.9 162.3,317.3 200.2,291.3 219.2,381.6 238.2,290.7 257.1,320.1 276.1,338.4 295.1,286.9 314.1,294.4 333.0,289.1 352.0,297.5" stroke="#bf00bf" stroke-width="1.0" fill="none" stroke-linejoin="miter"/>
<polyline points="48.4,312.4 86.4,352.3 124.3,310.1 162.3,303.9 200.2,303.5 219.2,312.7 238.2,301.9 257.1,322.2 276.1,323.3 295.1,319.3 314.1,308.1 333.0,311.7 352.0,318.9" stroke="#bfbf00" stroke-width="1.0" fill="none" stroke-linejoin="miter"/>
<polyline points="48.4,317.4 86.4,353.1 124.3,325.7 162.3,328.4 200.2,349.1 219.2,333.3 238.2,347.2 257.1,325.7 276.1,329.8 295.1,337.4 314.1,323.1 333.0,312.3 352.0,333.1" stroke="#404040" stroke-width="1.0" fill="none" stroke-linejoin="miter"/>
<polyline points="48.4,292.8 86.4,285.8 124.3,288.9 162.3,289.6 200.2,305.5 219.2,289.9 238.2,315.3 257.1,288.7 276.1,296.2 295.1,291.7 314.1,279.3 333.0,287.4 352.0,292.0" stroke="#0000ff" stroke-width="1.0" fill="none" stroke-linejoin="miter"/>
<polyline points="48.4,317.5 86.4,296.1 124.3,314.9 162.3,319.1 200.2,319.3 219.2,324.8 238.2,295.7 257.1,301.0 276.1,300.5 295.1,292.5 314.1,330.0 333.0,327.6 352.0,273.3" stroke="#008000" stroke-width="1.0" fill="none" stroke-linejoin="miter"/>
<polyline points="48.4,299.1 86.4,288.9 124.3,323.7 162.3,299.6 200.2,301.5 219.2,288.4 238.2,315.3 257.1,291.0 276.1,282.6 295.1,290.1 314.1,299.6 333.0,311.7 352.0,296.9" stroke="#ff0000" stroke-width="1.0" fill="none" stroke-linejoin="miter"/>
<polyline points="48.4,306.6 86.4,293.7 124.3,295.7 162.3,303.6 200.2,304.4 219.2,293.7 238.2,353.4 257.1,313.3 276.1,283.6 295.1,296.0 314.1,285.0 333.0,286.2 352.0,289.8" stroke="#00bfbf" stroke-width="1.0" fill="none" stroke-linejoin="miter"/>
<polyline points="48.4,308.6 86.4,322.2 124.3,297.0 162.3,294.1 200.2,299.5 219.2,297.0 238.2,288.2 257.1,332.1 276.1,325.6 295.1,299.8 314.1,296.3 333.0,303.0 352.0,290.9" stroke="#bf00bf" stroke-width="1.0" fill="none" stroke-linejoin="miter"/>
<polyline points="48.4,304.5 86.4,319.5 124.3,326.1 162.3,323.7 200.2,309.2 219.2,322.5 238.2,317.4 257.1,319.3 276.1,307.9 295.1,303.9 314.1,329.5 333.0,306.3 352.0,297.0" stroke="#bfbf00" stroke-width="1.0" fill="none" stroke-linejoin="miter"/>
<polyline points="48.4,291.6 86.4,285.1 124.3,304.9 162.3,283.3 200.2,289.6 219.2,298.5 238.2,295.9 257.1,295.1 276.1,298.6 295.1,312.0 314.1,313.2 333.0,304.8 352.0,283.9" stroke="#404040" stroke-width="1.0" fill="none" stroke-linejoin="miter"/>
<polyline points="48.4,296.2 86.4,310.9 124.3,311.9 162.3,302.1 200.2,301.8 219.2,293.0 238.2,290.7 257.1,307.8 276.1,283.1 295.1,305.7 314.1,283.3 333.0,318.8 352.0,289.5" stroke="#0000ff" stroke-width="1.0" fill="none" stroke-linejoin="miter"/>
<polyline points="48.4,340.5 86.4,321.4 124.3,320.6 162.3,333.7 200.2,320.6 219.2,288.3 238.2,273.8 257.1,286.0 276.1,354.0 295.1,348.7 314.1,324.7 333.0,340.3 352.0,317.2" stroke="#008000" stroke-width="1.0" fill="none" stroke-linejoin="miter"/>
<polyline points="48.4,319.5 86.4,307.6 124.3,305.0 162.3,299.0 200.2,317.1 219.2,310.0 238.2,311.6 257.1,326.1 276.1,324.1 295.1,311.5 314.1,294.1 333.0,298.7 352.0,323.0" stroke="#ff0000" stroke-width="1.0" fill="none" stroke-linejoin="miter"/>
<polyline points="48.4,314.0 86.4,311.3 124.3,321.7 162.3,294.5 200.2,297.7 219.2,305.2 238.2,311.1 257.1,302.1 276.1,295.5 295.1,296.4 314.1,298.8 333.0,298.5 352.0,302.6" stroke="#00bfbf" stroke-width="1.0" fill="none" stroke-linejoin="miter"/>
<polyline points="48.4,350.2 86.4,331.2 124.3,327.8 162.3,318.3 200.2,345.3 219.2,339.0 238.2,324.5 257.1,324.5 276.1,309.5 295.1,321.0 314.1,331.3 333.0,322.4 352.0,323.8" stroke="#bf00bf" stroke-width="1.0" fill="none" stroke-linejoin="miter"/>
<polyline points="48.4,337.4 86.4,326.5 124.3,342.2 162.3,332.8 200.2,330.5 219.2,337.7 238.2,329.8 257.1,348.0 276.1,322.7 295.1,330.0 314.1,318.1 333.0,346.4 352.0,348.5" stroke="#bfbf00" stroke-width="1.0" fill="none" stroke-linejoin="miter"/>
<polyline points="48.4,316.8 86.4,346.6 124.3,318.1 162.3,307.4 200.2,331.6 219.2,328.5 238.2,319.2 257.1,313.7 276.1,335.1 295.1,305.6 314.1,315.2 333.0,316.1 352.0,327.3" stroke="#404040" stroke-width="1.0" fill="none" stroke-linejoin="miter"/>
<polyline points="48.4,343.3 86.4,333.2 124.3,312.4 162.3,306.1 200.2,327.2 219.2,320.1 238.2,323.1 257.1,349.4 276.1,343.1 295.1,332.9 314.1,324.6 333.0,319.3 352.0,335.7" stroke="#0000ff" stroke-width="1.0" fill="none" stroke-linejoin="miter"/>
<polyline points="48.4,314.1 86.4,295.8 124.3,355.0 162.3,280.8 200.2,288.4 219.2,292.1 238.2,283.5 257.1,301.5 276.1,284.9 295.1,291.2 314.1,284.7 333.0,301.9 352.0,288.2" stroke="#008000" stroke-width="1.0" fill="none" stroke-linejoin="miter"/>
<polyline points="48.4,314.4 86.4,301.3 124.3,287.5 162.3,298.7 200.2,292.5 219.2,290.7 238.2,298.9 257.1,307.8 276.1,342.9 295.1,298.4 314.1,300.6 333.0,309.1 352.0,298.9" stroke="#ff0000" stroke-width="1.0" fill="none" stroke-linejoin="miter"/>
<polyline points="48.4,338.4 86.4,318.1 124.3,329.8 162.3,329.1 200.2,340.7 219.2,316.8 238.2,325.1 257.1,286.3 276.1,269.4 295.1,287.0 314.1,339.4 333.0,326.8 352.0,340.2" stroke="#00bfbf" stroke-width="1.0" fill="none" stroke-linejoin="miter"/>
<polyline points="48.4,314.6 86.4,319.5 124.3,319.2 162.3,314.5 200.2,300.8 219.2,324.3 238.2,295.2 257.1,305.6 276.1,316.1 295.1,312.6 314.1,276.1 333.0,315.3 352.0,316.9" stroke="#bf00bf" stroke-width="1.0" fill="none" stroke-linejoin="miter"/>
<polyline points="48.4,296.8 86.4,294.9 124.3,311.0 162.3,317.5 200.2,301.8 219.2,293.5 238.2,286.0 257.1,310.5 276.1,285.6 295.1,289.0 314.1,289.1 333.0,291.6 352.0,294.7" stroke="#bfbf00" stroke-width="1.0" fill="none" stroke-linejoin="miter"/>
<polyline points="48.4,291.9 86.4,283.5 124.3,295.1 162.3,280.4 200.2,319.6 219.2,309.9 238.2,299.9 257.1,297.7 276.1,281.9 295.1,299.9 314.1,294.0 333.0,290.7 352.0,285.2" stroke="#404040" stroke-width="1.0" fill="none" stroke-linejoin="miter"/>
<polyline points="48.4,309.0 86.4,354.4 124.3,288.3 162.3,276.6 200.2,288.8 219.2,300.3 238.2,310.1 257.1,310.8 276.1,315.8 295.1,309.9 314.1,300.1 333.0,300.0 352.0,298.3" stroke="#0000ff" stroke-width="1.0" fill="none" stroke-linejoin="miter"/>
<polyline points="48.4,299.3 86.4,280.2 124.3,283.8 162.3,281.5 200.2,304.1 219.2,306.2 238.2,311.4 257.1,300.4 276.1,306.1 295.1,315.3 314.1,292.1 333.0,292.4 352.0,306.2" stroke="#008000" stroke-width="1.0" fill="none" stroke-linejoin="miter"/>
<polyline points="48.4,316.1 86.4,298.6 124.3,300.8 162.3,354.6 200.2,323.6 219.2,312.6 238.2,282.8 257.1,307.6 276.1,313.6 295.1,307.3 314.1,310.2 333.0,327.2 352.0,315.3" stroke="#ff0000" stroke-width="1.0" fill="none" stroke-linejoin="miter"/>
<polyline points="48.4,295.9 86.4,293.0 124.3,293.6 162.3,297.7 200.2,303.7 219.2,302.7 238.2,289.3 257.1,297.0 276.1,335.1 295.1,289.8 314.1,276.9 333.0,289.6 352.0,305.6" stroke="#00bfbf" stroke-width="1.0" fill="none" stroke-linejoin="miter"/>
<polyline points="48.4,291.0 86.4,299.6 124.3,332.5 162.3,314.4 200.2,327.0 219.2,308.8 238.2,303.8 257.1,291.5 276.1,290.8 295.1,306.7 314.1,319.1 333.0,292.4 352.0,314.2" stroke="#bf00bf" stroke-width="1.0" fill="none" stroke-linejoin="miter"/>
<polyline points="48.4,323.2 86.4,308.5 124.3,313.5 162.3,336.7 200.2,339.5 219.2,332.9 238.2,312.2 257.1,322.2 276.1,346.9 295.1,335.7 314.1,323.9 333.0,322.3 352.0,319.5" stroke="#bfbf00" stroke-width="1.0" fill="none" stroke-linejoin="miter"/>
<polyline points="48.4,311.1 86.4,308.7 124.3,289.9 162.3,305.2 200.2,288.6 219.2,290.2 238.2,288.0 257.1,288.2 276.1,296.9 295.1,291.8 314.1,288.1 333.0,302.4 352.0,358.4" stroke="#404040" stroke-width="1.0" fill="none" stroke-linejoin="miter"/>
<polyline points="48.4,308.9 86.4,318.1 124.3,307.5 162.3,279.5 200.2,315.1 219.2,311.9 238.2,321.5 257.1,318.1 276.1,310.7 295.1,310.8 314.1,313.8 333.0,318.5 352.0,345.5" stroke="#0000ff" stroke-width="1.0" fill="none" stroke-linejoin="miter"/>
<polyline points="48.4,307.8 86.4,351.9 124.3,297.4 162.3,353.7 200.2,311.9 219.2,299.3 238.2,313.5 257.1,320.8 276.1,288.2 295.1,303.0 314.1,291.0 333.0,325.8 352.0,338.2" stroke="#008000" stroke-width="1.0" fill="none" stroke-linejoin="miter"/>
<polyline points="48.4,318.7 86.4,284.5 124.3,289.1 162.3,284.9 200.2,292.1 219.2,298.1 238.2,292.8 257.1,323.6 276.1,288.0 295.1,289.0 314.1,287.0 333.0,289.7 352.0,319.4" stroke="#ff0000" stroke-width="1.0" fill="none" stroke-linejoin="miter"/>
<polyline points="48.4,333.2 86.4,378.5 124.3,309.3 162.3,306.5 200.2,327.5 219.2,336.5 238.2,307.5 257.1,309.5 276.1,350.3 295.1,350.1 314.1,349.3 333.0,333.4 352.0,325.5" stroke="#00bfbf" stroke-width="1.0" fill="none" stroke-linejoin="miter"/>
<polyline points="48.4,292.9 86.4,288.1 124.3,289.8 162.3,290.5 200.2,293.9 219.2,288.8 238.2,355.7 257.1,294.0 276.1,277.3 295.1,289.5 314.1,284.6 333.0,297.2 352.0,291.3" stroke="#bf00bf" stroke-width="1.0" fill="none" stroke-linejoin="miter"/>
<polyline points="48.4,299.9 86.4,302.0 124.3,297.9 162.3,300.8 200.2,290.6 219.2,294.8 238.2,310.0 257.1,298.7 276.1,290.8 295.1,317.4 314.1,323.8 333.0,300.6 352.0,290.9" stroke="#bfbf00" stroke-width="1.0" fill="none" stroke-linejoin="miter"/>
<polyline points="48.4,297.1 86.4,295.6 124.3,299.9 162.3,379.7 200.2,302.4 219.2,319.2 238.2,288.5 257.1,311.4 276.1,282.6 295.1,290.0 314.1,283.7 333.0,293.1 352.0,290.1" stroke="#404040" stroke-width="1.0" fill="none" stroke-linejoin="miter"/>
<polyline points="48.4,307.6 86.4,317.5 124.3,313.1 162.3,337.0 200.2,299.4 219.2,344.8 238.2,306.0 257.1,317.2 276.1,307.3 295.1,328.0 314.1,333.5 333.0,324.3 352.0,315.4" stroke="#0000ff" stroke-width="1.0" fill="none" stroke-linejoin="miter"/>
<polyline points="48.4,302.7 86.4,305.2 124.3,290.0 162.3,297.5 200.2,312.1 219.2,310.2 238.2,329.8 257.1,310.1 276.1,311.1 295.1,328.6 314.1,278.0 333.0,293.4 352.0,299.3" stroke="#008000" stroke-width="1.0" fill="none" stroke-linejoin="miter"/>
<polyline points="48.4,306.4 86.4,350.3 124.3,298.4 162.3,320.4 200.2,296.3 219.2,291.1 238.2,291.0 257.1,299.9 276.1,297.4 295.1,291.8 314.1,284.2 333.0,305.6 352.0,307.6" stroke="#ff0000" stroke-width="1.0" fill="none" stroke-linejoin="miter"/>
<polyline points="48.4,338.9 86.4,327.6 124.3,305.4 162.3,323.3 200.2,327.3 219.2,317.5 238.2,336.2 257.1,328.3 276.1,322.8 295.1,321.8 314.1,308.7 333.0,312.7 352.0,338.5" stroke="#00bfbf" stroke-width="1.0" fill="none" stroke-linejoin="miter"/>
<polyline points="48.4,312.8 86.4,298.1 124.3,320.6 162.3,298.9 200.2,321.6 219.2,331.2 238.2,307.1 257.1,314.0 276.1,351.4 295.1,321.0 314.1,319.2 333.0,307.3 352.0,340.3" stroke="#bf00bf" stroke-width="1.0" fill="none" stroke-linejoin="miter"/>
<polyline points="48.4,303.8 86.4,368.5 124.3,318.7 162.3,320.3 200.2,299.8 219.2,305.4 238.2,337.0 257.1,326.8 276.1,316.4 295.1,326.0 314.1,332.6 333.0,329.8 352.0,305.8" stroke="#bfbf00" stroke-width="1.0" fill="none" stroke-linejoin="miter"/>
<polyline points="48.4,314.3 86.4,306.3 124.3,311.9 162.3,307.2 200.2,313.0 219.2,297.3 238.2,285.2 257.1,330.5 276.1,296.7 295.1,299.6 314.1,298.1 333.0,305.5 352.0,313.8" stroke="#404040" stroke-width="1.0" fill="none" stroke-linejoin="miter"/>
<polyline points="48.4,344.6 86.4,324.9 124.3,345.3 162.3,335.9 200.2,325.8 219.2,324.2 238.2,316.4 257.1,323.4 276.1,279.8 295.1,347.6 314.1,338.7 333.0,333.3 352.0,332.7" stroke="#0000ff" stroke-width="1.0" fill="none" stroke-linejoin="miter"/>
<polyline points="48.4,333.9 86.4,301.0 124.3,309.0 162.3,298.8 200.2,292.7 219.2,332.4 238.2,298.2 257.1,293.7 276.1,297.0 295.1,328.1 314.1,304.0 333.0,302.0 352.0,286.8" stroke="#008000" stroke-width="1.0" fill="none" stroke-linejoin="miter"/>
<polyline points="48.4,312.5 86.4,292.9 124.3,293.6 162.3,333.8 200.2,328.7 219.2,292.8 238.2,311.5 257.1,288.2 276.1,284.8 295.1,297.9 314.1,287.8 333.0,287.8 352.0,301.3" stroke="#ff0000" stroke-width="1.0" fill="none" stroke-linejoin="miter"/>
<polyline points="48.4,371.9 86.4,287.0 124.3,321.1 162.3,306.1 200.2,322.8 219.2,300.2 238.2,296.4 257.1,318.5 276.1,305.0 295.1,332.2 314.1,307.1 333.0,307.6 352.0,318.1" stroke="#00bfbf" stroke-width="1.0" fill="none" stroke-linejoin="miter"/>
<polyline points="48.4,313.0 86.4,293.5 124.3,306.1 162.3,322.6 200.2,317.8 219.2,294.4 238.2,306.7 257.1,328.0 276.1,332.4 295.1,295.9 314.1,294.6 333.0,300.4 352.0,324.2" stroke="#bf00bf" stroke-width="1.0" fill="none" stroke-linejoin="miter"/>
<polyline points="48.4,357.2 86.4,304.6 124.3,304.9 162.3,310.6 200.2,327.9 219.2,323.3 238.2,361.1 257.1,307.1 276.1,336.7 295.1,316.6 314.1,324.3 333.0,327.9 352.0,323.4" stroke="#bfbf00" stroke-width="1.0" fill="none" stroke-linejoin="miter"/>
<polyline points="48.4,307.6 86.4,296.4 124.3,308.8 162.3,318.7 200.2,324.7 219.2,307.8 238.2,304.2 257.1,319.7 276.1,314.0 295.1,313.0 314.1,333.5 333.0,303.4 352.0,335.0" stroke="#404040" stroke-width="1.0" fill="none" stroke-linejoin="miter"/>
<polyline points="48.4,327.2 86.4,304.9 124.3,306.3 162.3,326.8 200.2,308.1 219.2,325.1 238.2,348.1 257.1,345.0 276.1,338.7 295.1,317.5 314.1,277.7 333.0,321.1 352.0,306.9" stroke="#0000ff" stroke-width="1.0" fill="none" stroke-linejoin="miter"/>
<polyline points="48.4,303.2 86.4,290.7 124.3,292.0 162.3,291.8 200.2,333.8 219.2,325.3 238.2,306.1 257.1,288.6 276.1,296.9 295.1,342.0 314.1,288.1 333.0,309.1 352.0,295.8" stroke="#008000" stroke-width="1.0" fill="none" stroke-linejoin="miter"/>
<polyline points="48.4,309.6 86.4,329.1 124.3,309.1 162.3,302.6 200.2,312.1 219.2,401.7 238.2,312.1 257.1,296.8 276.1,327.3 295.1,305.5 314.1,306.6 333.0,321.3 352.0,301.6" stroke="#ff0000" stroke-width="1.0" fill="none" stroke-linejoin="miter"/>
<polyline points="48.4,310.0 86.4,281.0 124.3,295.8 162.3,295.3 200.2,304.3 219.2,302.2 238.2,279.1 257.1,305.6 276.1,289.0 295.1,315.8 314.1,296.1 333.0,304.7 352.0,284.4" stroke="#00bfbf" stroke-width="1.0" fill="none" stroke-linejoin="miter"/>
<polyline points="48.4,317.5 86.4,336.2 124.3,338.2 162.3,324.9 200.2,323.8 219.2,322.3 238.2,323.6 257.1,344.4 276.1,320.2 295.1,344.3 314.1,352.3 333.0,346.3 352.0,314.8" stroke="#bf00bf" stroke-width="1.0" fill="none" stroke-linejoin="miter"/>
<polyline points="48.4,299.9 86.4,292.4 124.3,317.3 162.3,318.9 200.2,309.6 219.2,294.1 238.2,297.2 257.1,290.5 276.1,325.5 295.1,315.1 314.1,304.7 333.0,291.5 352.0,308.3" stroke="#bfbf00" stroke-width="1.0" fill="none" stroke-linejoin="miter"/>
</g>
<path d="M86.35 408.60v-4.0" stroke="#222" stroke-width="1"/>
<path d="M86.35 251.50v4.0" stroke="#555" stroke-width="1"/>
<path d="M124.30 408.60v-4.0" stroke="#222" stroke-width="1"/>
<path d="M124.30 251.50v4.0" stroke="#555" stroke-width="1"/>
<path d="M162.25 408.60v-4.0" stroke="#222" stroke-width="1"/>
<path d="M162.25 251.50v4.0" stroke="#555" stroke-width="1"/>
<path d="M200.20 408.60v-4.0" stroke="#222" stroke-width="1"/>
<path d="M200.20 251.50v4.0" stroke="#555" stroke-width="1"/>
<path d="M238.15 408.60v-4.0" stroke="#222" stroke-width="1"/>
<path d="M238.15 251.50v4.0" stroke="#555" stroke-width="1"/>
<path d="M276.10 408.60v-4.0" stroke="#222" stroke-width="1"/>
<path d="M276.10 251.50v4.0" stroke="#555" stroke-width="1"/>
<path d="M314.05 408.60v-4.0" stroke="#222" stroke-width="1"/>
<path d="M314.05 251.50v4.0" stroke="#555" stroke-width="1"/>
<path d="M48.50 283.16h4.0" stroke="#666" stroke-width="1"/>
<path d="M351.70 283.16h-4.0" stroke="#808080" stroke-width="1"/>
<path d="M48.50 314.52h4.0" stroke="#666" stroke-width="1"/>
<path d="M351.70 314.52h-4.0" stroke="#808080" stroke-width="1"/>
<path d="M48.50 345.88h4.0" stroke="#666" stroke-width="1"/>
<path d="M351.70 345.88h-4.0" stroke="#808080" stroke-width="1"/>
<path d="M48.50 377.24h4.0" stroke="#666" stroke-width="1"/>
<path d="M351.70 377.24h-4.0" stroke="#808080" stroke-width="1"/>
<path d="M48.00 251.50H352.20" stroke="#999" stroke-width="1"/>
<path d="M48.00 408.60H352.20" stroke="#888" stroke-width="1.5"/>
<path d="M48.50 251.00V409.10" stroke="#222" stroke-width="1"/>
<path d="M351.70 251.00V409.10" stroke="#8a8a8a" stroke-width="1.5"/>
<g font-family="Liberation Sans, Arial, sans-serif" fill="#000" stroke="#000" stroke-width="0.18"><text x="0.5" y="10.5" font-size="20" font-weight="bold">a</text><text x="-0.9" y="246.1" font-size="20" font-weight="bold">b</text><text transform="translate(44.30 21.80) scale(1.04 1)" font-size="11.3" text-anchor="end">1000</text><text transform="translate(44.30 43.94) scale(1.04 1)" font-size="11.3" text-anchor="end">800</text><text transform="translate(44.30 66.09) scale(1.04 1)" font-size="11.3" text-anchor="end">600</text><text transform="translate(44.30 88.23) scale(1.04 1)" font-size="11.3" text-anchor="end">400</text><text transform="translate(44.30 110.37) scale(1.04 1)" font-size="11.3" text-anchor="end">200</text><text transform="translate(44.30 132.51) scale(1.04 1)" font-size="11.3" text-anchor="end">0</text><text transform="translate(44.30 154.66) scale(1.04 1)" font-size="11.3" text-anchor="end">-200</text><text transform="translate(44.30 176.80) scale(1.04 1)" font-size="11.3" text-anchor="end">-400</text><text transform="translate(48.00 188.20) scale(1.04 1)" font-size="11.3" text-anchor="middle">0.75</text><text transform="translate(86.49 188.20) scale(1.04 1)" font-size="11.3" text-anchor="middle">0.8</text><text transform="translate(124.97 188.20) scale(1.04 1)" font-size="11.3" text-anchor="middle">0.85</text><text transform="translate(163.46 188.20) scale(1.04 1)" font-size="11.3" text-anchor="middle">0.9</text><text transform="translate(201.95 188.20) scale(1.04 1)" font-size="11.3" text-anchor="middle">0.95</text><text transform="translate(240.44 188.20) scale(1.04 1)" font-size="11.3" text-anchor="middle">1</text><text transform="translate(278.93 188.20) scale(1.04 1)" font-size="11.3" text-anchor="middle">1.05</text><text transform="translate(317.41 188.20) scale(1.04 1)" font-size="11.3" text-anchor="middle">1.1</text><text transform="translate(355.90 188.20) scale(1.04 1)" font-size="11.3" text-anchor="middle">1.15</text><text transform="translate(44.80 256.10) scale(1.04 1)" font-size="11.3" text-anchor="end">-20</text><text transform="translate(44.80 287.46) scale(1.04 1)" font-size="11.3" text-anchor="end">-30</text><text transform="translate(44.80 318.82) scale(1.04 1)" font-size="11.3" text-anchor="end">-40</text><text transform="translate(44.80 350.18) scale(1.04 1)" font-size="11.3" text-anchor="end">-50</text><text transform="translate(44.80 381.54) scale(1.04 1)" font-size="11.3" text-anchor="end">-60</text><text transform="translate(44.80 412.90) scale(1.04 1)" font-size="11.3" text-anchor="end">-70</text><text transform="translate(48.40 424.40) scale(1.04 1)" font-size="11.3" text-anchor="middle">0.75</text><text transform="translate(86.35 424.40) scale(1.04 1)" font-size="11.3" text-anchor="middle">0.8</text><text transform="translate(124.30 424.40) scale(1.04 1)" font-size="11.3" text-anchor="middle">0.85</text><text transform="translate(162.25 424.40) scale(1.04 1)" font-size="11.3" text-anchor="middle">0.9</text><text transform="translate(200.20 424.40) scale(1.04 1)" font-size="11.3" text-anchor="middle">0.95</text><text transform="translate(238.15 424.40) scale(1.04 1)" font-size="11.3" text-anchor="middle">1</text><text transform="translate(276.10 424.40) scale(1.04 1)" font-size="11.3" text-anchor="middle">1.05</text><text transform="translate(314.05 424.40) scale(1.04 1)" font-size="11.3" text-anchor="middle">1.1</text><text transform="translate(352.00 424.40) scale(1.04 1)" font-size="11.3" text-anchor="middle">1.15</text><text x="201.3" y="206.3" font-size="13.3" text-anchor="middle">Freq [THz]</text><text x="200.5" y="441.3" font-size="13.5" text-anchor="middle">Freq[THz]</text><text transform="translate(10.7 95) rotate(-90) scale(1.1 1)" font-size="13.4" text-anchor="middle">Zin [Ω]</text><text transform="translate(14.9 330.4) rotate(-90) scale(1.065 1)" font-size="13.3" text-anchor="middle">Mutual coupling (Sij) [dB]</text><text x="55.5" y="35.1" font-size="14">5x5 array of MOSFET detectors</text><text transform="translate(56.6 268.6) scale(1 1.08)" font-size="13.65">5x5 array of MOSFET detectors</text></g>
</svg></body></html>
